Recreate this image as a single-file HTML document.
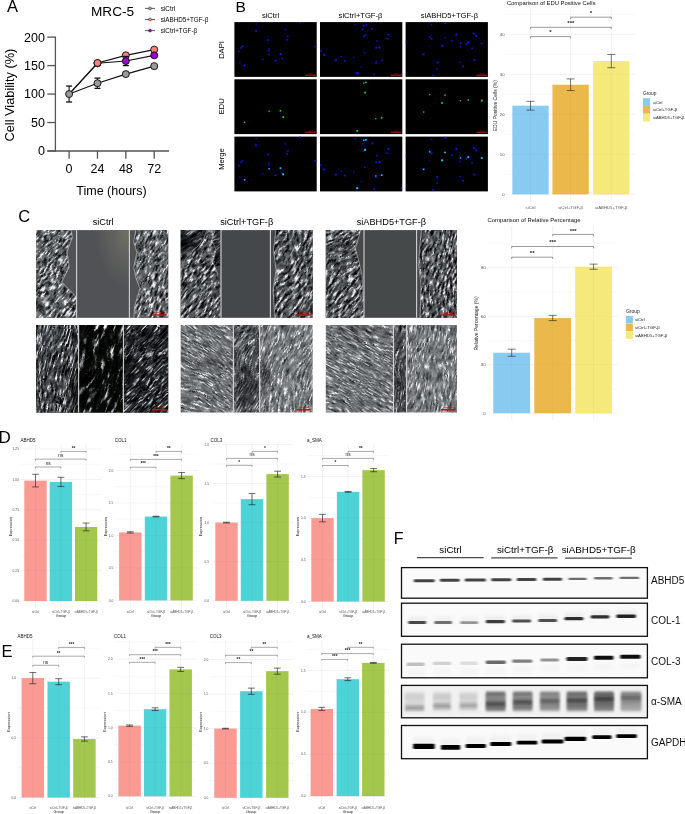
<!DOCTYPE html>
<html><head><meta charset="utf-8"><style>
html,body{margin:0;padding:0;background:#fff;}
body{width:685px;height:814px;overflow:hidden;}
svg{display:block;font-family:'Liberation Sans', Arial, sans-serif;}
</style></head><body>
<svg width="685" height="814" viewBox="0 0 685 814">
<defs>
<filter id="dotblur" x="-5%" y="-5%" width="110%" height="110%"><feGaussianBlur stdDeviation="0.3"/></filter>
<clipPath id="clipB00"><rect x="234.4" y="22.1" width="82.3" height="54.8"/></clipPath>
<clipPath id="clipB01"><rect x="234.4" y="79.3" width="82.3" height="54.8"/></clipPath>
<clipPath id="clipB02"><rect x="234.4" y="136.6" width="82.3" height="54.8"/></clipPath>
<clipPath id="clipB10"><rect x="320" y="22.1" width="82.3" height="54.8"/></clipPath>
<clipPath id="clipB11"><rect x="320" y="79.3" width="82.3" height="54.8"/></clipPath>
<clipPath id="clipB12"><rect x="320" y="136.6" width="82.3" height="54.8"/></clipPath>
<clipPath id="clipB20"><rect x="405.6" y="22.1" width="82.3" height="54.8"/></clipPath>
<clipPath id="clipB21"><rect x="405.6" y="79.3" width="82.3" height="54.8"/></clipPath>
<clipPath id="clipB22"><rect x="405.6" y="136.6" width="82.3" height="54.8"/></clipPath>
<clipPath id="cimg0"><rect x="36.2" y="230.1" width="132" height="87.7"/></clipPath>
<clipPath id="cimg1"><rect x="180.7" y="230.1" width="132" height="87.7"/></clipPath>
<clipPath id="cimg2"><rect x="325.8" y="230.1" width="131.1" height="87.7"/></clipPath>
<clipPath id="cimg3"><rect x="36.2" y="325.1" width="132" height="87.5"/></clipPath>
<clipPath id="cimg4"><rect x="180.7" y="325.1" width="132" height="87.5"/></clipPath>
<clipPath id="cimg5"><rect x="325.8" y="325.1" width="131.1" height="87.5"/></clipPath>
<filter id="tx1" x="0" y="0" width="1" height="1" color-interpolation-filters="sRGB"><feTurbulence type="fractalNoise" baseFrequency="0.13 0.5" numOctaves="4" seed="3" result="n"/><feTurbulence type="fractalNoise" baseFrequency="0.018" numOctaves="2" seed="53" result="w"/><feDisplacementMap in="n" in2="w" scale="22" xChannelSelector="R" yChannelSelector="G" result="d"/><feColorMatrix in="d" type="matrix" values="1 0 0 0 0 1 0 0 0 0 1 0 0 0 0 0 0 0 0 1"/><feComponentTransfer result="t"><feFuncR type="table" tableValues="0.000 0.000 0.000 0.000 0.000 0.005 0.080 0.155 0.230 0.305 0.380 0.455 0.561 0.745 0.947 1.000 1.000 1.000 1.000 1.000 1.000"/><feFuncG type="table" tableValues="0.000 0.000 0.000 0.000 0.000 0.017 0.092 0.167 0.242 0.317 0.392 0.467 0.573 0.757 0.959 1.000 1.000 1.000 1.000 1.000 1.000"/><feFuncB type="table" tableValues="0.000 0.000 0.000 0.000 0.000 0.027 0.102 0.177 0.252 0.327 0.402 0.477 0.585 0.774 0.982 1.000 1.000 1.000 1.000 1.000 1.000"/></feComponentTransfer><feTurbulence type="fractalNoise" baseFrequency="0.55" numOctaves="1" seed="93" result="sp"/><feColorMatrix in="sp" type="matrix" values="0 0 0 0 0.85 0 0 0 0 0.87 0 0 0 0 0.92 7 0 0 0 -4.76" result="spk"/><feComposite in="spk" in2="t" operator="over" result="c"/><feGaussianBlur in="c" stdDeviation="0.4"/></filter>
<filter id="tx2" x="0" y="0" width="1" height="1" color-interpolation-filters="sRGB"><feTurbulence type="fractalNoise" baseFrequency="0.13 0.5" numOctaves="4" seed="7" result="n"/><feTurbulence type="fractalNoise" baseFrequency="0.018" numOctaves="2" seed="57" result="w"/><feDisplacementMap in="n" in2="w" scale="22" xChannelSelector="R" yChannelSelector="G" result="d"/><feColorMatrix in="d" type="matrix" values="1 0 0 0 0 1 0 0 0 0 1 0 0 0 0 0 0 0 0 1"/><feComponentTransfer result="t"><feFuncR type="table" tableValues="0.000 0.000 0.000 0.000 0.000 0.000 0.020 0.095 0.170 0.245 0.320 0.395 0.501 0.685 0.887 1.000 1.000 1.000 1.000 1.000 1.000"/><feFuncG type="table" tableValues="0.000 0.000 0.000 0.000 0.000 0.000 0.032 0.107 0.182 0.257 0.332 0.407 0.513 0.697 0.899 1.000 1.000 1.000 1.000 1.000 1.000"/><feFuncB type="table" tableValues="0.000 0.000 0.000 0.000 0.000 0.000 0.042 0.117 0.192 0.267 0.342 0.417 0.525 0.714 0.922 1.000 1.000 1.000 1.000 1.000 1.000"/></feComponentTransfer><feTurbulence type="fractalNoise" baseFrequency="0.55" numOctaves="1" seed="97" result="sp"/><feColorMatrix in="sp" type="matrix" values="0 0 0 0 0.85 0 0 0 0 0.87 0 0 0 0 0.92 7 0 0 0 -4.76" result="spk"/><feComposite in="spk" in2="t" operator="over" result="c"/><feGaussianBlur in="c" stdDeviation="0.4"/></filter>
<filter id="tx3" x="0" y="0" width="1" height="1" color-interpolation-filters="sRGB"><feTurbulence type="fractalNoise" baseFrequency="0.09 0.7" numOctaves="4" seed="11" result="n"/><feTurbulence type="fractalNoise" baseFrequency="0.018" numOctaves="2" seed="61" result="w"/><feDisplacementMap in="n" in2="w" scale="22" xChannelSelector="R" yChannelSelector="G" result="d"/><feColorMatrix in="d" type="matrix" values="1 0 0 0 0 1 0 0 0 0 1 0 0 0 0 0 0 0 0 1"/><feComponentTransfer result="t"><feFuncR type="table" tableValues="0.000 0.000 0.000 0.000 0.000 0.000 0.000 0.030 0.100 0.170 0.240 0.310 0.413 0.598 0.803 1.000 1.000 1.000 1.000 1.000 1.000"/><feFuncG type="table" tableValues="0.000 0.000 0.000 0.000 0.000 0.000 0.000 0.042 0.112 0.182 0.252 0.322 0.425 0.610 0.815 1.000 1.000 1.000 1.000 1.000 1.000"/><feFuncB type="table" tableValues="0.000 0.000 0.000 0.000 0.000 0.000 0.000 0.052 0.122 0.192 0.262 0.332 0.437 0.627 0.839 1.000 1.000 1.000 1.000 1.000 1.000"/></feComponentTransfer><feTurbulence type="fractalNoise" baseFrequency="0.55" numOctaves="1" seed="101" result="sp"/><feColorMatrix in="sp" type="matrix" values="0 0 0 0 0.85 0 0 0 0 0.87 0 0 0 0 0.92 7 0 0 0 -4.76" result="spk"/><feComposite in="spk" in2="t" operator="over" result="c"/><feGaussianBlur in="c" stdDeviation="0.4"/></filter>
<filter id="tx4" x="0" y="0" width="1" height="1" color-interpolation-filters="sRGB"><feTurbulence type="fractalNoise" baseFrequency="0.1 0.75" numOctaves="4" seed="5" result="n"/><feTurbulence type="fractalNoise" baseFrequency="0.016" numOctaves="2" seed="55" result="w"/><feDisplacementMap in="n" in2="w" scale="26" xChannelSelector="R" yChannelSelector="G" result="d"/><feColorMatrix in="d" type="matrix" values="1 0 0 0 0 1 0 0 0 0 1 0 0 0 0 0 0 0 0 1"/><feComponentTransfer result="t"><feFuncR type="table" tableValues="0.000 0.013 0.060 0.108 0.155 0.203 0.250 0.297 0.345 0.393 0.440 0.488 0.553 0.665 0.787 0.916 1.000 1.000 1.000 1.000 1.000"/><feFuncG type="table" tableValues="0.000 0.025 0.072 0.120 0.167 0.215 0.262 0.309 0.357 0.405 0.452 0.500 0.565 0.677 0.799 0.928 1.000 1.000 1.000 1.000 1.000"/><feFuncB type="table" tableValues="0.000 0.035 0.082 0.130 0.177 0.225 0.272 0.320 0.367 0.415 0.462 0.510 0.576 0.691 0.817 0.950 1.000 1.000 1.000 1.000 1.000"/></feComponentTransfer><feTurbulence type="fractalNoise" baseFrequency="0.55" numOctaves="1" seed="95" result="sp"/><feColorMatrix in="sp" type="matrix" values="0 0 0 0 0.85 0 0 0 0 0.87 0 0 0 0 0.92 7 0 0 0 -4.76" result="spk"/><feComposite in="spk" in2="t" operator="over" result="c"/><feGaussianBlur in="c" stdDeviation="0.4"/></filter>
<filter id="tx5" x="0" y="0" width="1" height="1" color-interpolation-filters="sRGB"><feTurbulence type="fractalNoise" baseFrequency="0.1 0.75" numOctaves="4" seed="23" result="n"/><feTurbulence type="fractalNoise" baseFrequency="0.016" numOctaves="2" seed="73" result="w"/><feDisplacementMap in="n" in2="w" scale="26" xChannelSelector="R" yChannelSelector="G" result="d"/><feColorMatrix in="d" type="matrix" values="1 0 0 0 0 1 0 0 0 0 1 0 0 0 0 0 0 0 0 1"/><feComponentTransfer result="t"><feFuncR type="table" tableValues="0.000 0.042 0.090 0.138 0.185 0.232 0.280 0.327 0.375 0.422 0.470 0.518 0.583 0.695 0.817 0.946 1.000 1.000 1.000 1.000 1.000"/><feFuncG type="table" tableValues="0.007 0.054 0.102 0.150 0.197 0.244 0.292 0.339 0.387 0.434 0.482 0.530 0.595 0.707 0.829 0.958 1.000 1.000 1.000 1.000 1.000"/><feFuncB type="table" tableValues="0.017 0.065 0.112 0.160 0.207 0.255 0.302 0.349 0.397 0.445 0.492 0.540 0.606 0.721 0.847 0.980 1.000 1.000 1.000 1.000 1.000"/></feComponentTransfer><feTurbulence type="fractalNoise" baseFrequency="0.55" numOctaves="1" seed="113" result="sp"/><feColorMatrix in="sp" type="matrix" values="0 0 0 0 0.85 0 0 0 0 0.87 0 0 0 0 0.92 7 0 0 0 -4.76" result="spk"/><feComposite in="spk" in2="t" operator="over" result="c"/><feGaussianBlur in="c" stdDeviation="0.4"/></filter>
<filter id="txd" x="0" y="0" width="1" height="1" color-interpolation-filters="sRGB"><feTurbulence type="fractalNoise" baseFrequency="0.06 0.35" numOctaves="4" seed="13" result="n"/><feTurbulence type="fractalNoise" baseFrequency="0.02" numOctaves="2" seed="63" result="w"/><feDisplacementMap in="n" in2="w" scale="18" xChannelSelector="R" yChannelSelector="G" result="d"/><feColorMatrix in="d" type="matrix" values="1 0 0 0 0 1 0 0 0 0 1 0 0 0 0 0 0 0 0 1"/><feComponentTransfer result="t"><feFuncR type="table" tableValues="0.000 0.000 0.000 0.000 0.000 0.000 0.000 0.000 0.000 0.015 0.030 0.045 0.060 0.254 0.500 0.772 1.000 1.000 1.000 1.000 1.000"/><feFuncG type="table" tableValues="0.000 0.000 0.000 0.000 0.000 0.000 0.000 0.000 0.010 0.025 0.040 0.055 0.070 0.264 0.510 0.782 1.000 1.000 1.000 1.000 1.000"/><feFuncB type="table" tableValues="0.000 0.000 0.000 0.000 0.000 0.000 0.000 0.000 0.000 0.015 0.030 0.045 0.060 0.262 0.521 0.806 1.000 1.000 1.000 1.000 1.000"/></feComponentTransfer><feTurbulence type="fractalNoise" baseFrequency="0.55" numOctaves="1" seed="103" result="sp"/><feColorMatrix in="sp" type="matrix" values="0 0 0 0 0.85 0 0 0 0 0.87 0 0 0 0 0.92 3.5 0 0 0 -2.38" result="spk"/><feComposite in="spk" in2="t" operator="over" result="c"/><feGaussianBlur in="c" stdDeviation="0.4"/></filter>
<filter id="txm" x="0" y="0" width="1" height="1" color-interpolation-filters="sRGB"><feTurbulence type="fractalNoise" baseFrequency="0.09 0.7" numOctaves="4" seed="17" result="n"/><feTurbulence type="fractalNoise" baseFrequency="0.018" numOctaves="2" seed="67" result="w"/><feDisplacementMap in="n" in2="w" scale="22" xChannelSelector="R" yChannelSelector="G" result="d"/><feColorMatrix in="d" type="matrix" values="1 0 0 0 0 1 0 0 0 0 1 0 0 0 0 0 0 0 0 1"/><feComponentTransfer result="t"><feFuncR type="table" tableValues="0.000 0.000 0.000 0.000 0.000 0.000 0.000 0.000 0.040 0.090 0.140 0.190 0.273 0.438 0.623 0.819 1.000 1.000 1.000 1.000 1.000"/><feFuncG type="table" tableValues="0.000 0.000 0.000 0.000 0.000 0.000 0.000 0.002 0.052 0.102 0.152 0.202 0.285 0.450 0.635 0.831 1.000 1.000 1.000 1.000 1.000"/><feFuncB type="table" tableValues="0.000 0.000 0.000 0.000 0.000 0.000 0.000 0.012 0.062 0.112 0.162 0.212 0.297 0.467 0.659 0.863 1.000 1.000 1.000 1.000 1.000"/></feComponentTransfer><feTurbulence type="fractalNoise" baseFrequency="0.55" numOctaves="1" seed="107" result="sp"/><feColorMatrix in="sp" type="matrix" values="0 0 0 0 0.85 0 0 0 0 0.87 0 0 0 0 0.92 7 0 0 0 -4.76" result="spk"/><feComposite in="spk" in2="t" operator="over" result="c"/><feGaussianBlur in="c" stdDeviation="0.4"/></filter>
<filter id="txg" x="0" y="0" width="1" height="1" color-interpolation-filters="sRGB"><feTurbulence type="fractalNoise" baseFrequency="0.1 0.75" numOctaves="4" seed="19" result="n"/><feTurbulence type="fractalNoise" baseFrequency="0.016" numOctaves="2" seed="69" result="w"/><feDisplacementMap in="n" in2="w" scale="26" xChannelSelector="R" yChannelSelector="G" result="d"/><feColorMatrix in="d" type="matrix" values="1 0 0 0 0 1 0 0 0 0 1 0 0 0 0 0 0 0 0 1"/><feComponentTransfer result="t"><feFuncR type="table" tableValues="0.000 0.000 0.000 0.000 0.020 0.070 0.120 0.170 0.220 0.270 0.320 0.370 0.440 0.560 0.693 0.832 0.978 1.000 1.000 1.000 1.000"/><feFuncG type="table" tableValues="0.000 0.000 0.000 0.000 0.032 0.082 0.132 0.182 0.232 0.282 0.332 0.382 0.452 0.572 0.705 0.844 0.990 1.000 1.000 1.000 1.000"/><feFuncB type="table" tableValues="0.000 0.000 0.000 0.000 0.042 0.092 0.142 0.192 0.242 0.292 0.342 0.392 0.463 0.587 0.723 0.868 1.000 1.000 1.000 1.000 1.000"/></feComponentTransfer><feTurbulence type="fractalNoise" baseFrequency="0.55" numOctaves="1" seed="109" result="sp"/><feColorMatrix in="sp" type="matrix" values="0 0 0 0 0.85 0 0 0 0 0.87 0 0 0 0 0.92 7 0 0 0 -4.76" result="spk"/><feComposite in="spk" in2="t" operator="over" result="c"/><feGaussianBlur in="c" stdDeviation="0.4"/></filter>
<filter id="txs" x="0" y="0" width="1" height="1" color-interpolation-filters="sRGB"><feTurbulence type="fractalNoise" baseFrequency="0.08 0.6" numOctaves="4" seed="29" result="n"/><feTurbulence type="fractalNoise" baseFrequency="0.018" numOctaves="2" seed="79" result="w"/><feDisplacementMap in="n" in2="w" scale="22" xChannelSelector="R" yChannelSelector="G" result="d"/><feColorMatrix in="d" type="matrix" values="1 0 0 0 0 1 0 0 0 0 1 0 0 0 0 0 0 0 0 1"/><feComponentTransfer result="t"><feFuncR type="table" tableValues="0.000 0.000 0.000 0.000 0.000 0.000 0.000 0.015 0.060 0.105 0.150 0.195 0.269 0.417 0.581 0.757 0.940 1.000 1.000 1.000 1.000"/><feFuncG type="table" tableValues="0.000 0.000 0.000 0.000 0.000 0.000 0.000 0.027 0.072 0.117 0.162 0.207 0.281 0.429 0.593 0.769 0.952 1.000 1.000 1.000 1.000"/><feFuncB type="table" tableValues="0.000 0.000 0.000 0.000 0.000 0.000 0.000 0.037 0.082 0.127 0.172 0.217 0.293 0.445 0.616 0.798 0.988 1.000 1.000 1.000 1.000"/></feComponentTransfer><feTurbulence type="fractalNoise" baseFrequency="0.55" numOctaves="1" seed="119" result="sp"/><feColorMatrix in="sp" type="matrix" values="0 0 0 0 0.85 0 0 0 0 0.87 0 0 0 0 0.92 7 0 0 0 -4.76" result="spk"/><feComposite in="spk" in2="t" operator="over" result="c"/><feGaussianBlur in="c" stdDeviation="0.4"/></filter>
<radialGradient id="glow1" cx="0.95" cy="0.05" r="0.6"><stop offset="0" stop-color="#6e6e66" stop-opacity="1"/><stop offset="1" stop-color="#6e6e66" stop-opacity="0"/></radialGradient>
<clipPath id="cc1"><polygon points="36.2,230.1 71.3,230.1 72.3,237.7 69.2,246 67,252.5 68.1,258.9 69.2,267.3 64.9,275.8 61.8,282 66,286.4 70.2,290.6 74.4,294.9 76.6,298 76.6,317.8 36.2,317.8"/></clipPath>
<clipPath id="cc2"><polygon points="168.2,230.1 135.8,230.1 133.7,242 136.9,252.5 133.7,267.3 135.8,277.9 140,288.5 138,294.9 134.8,305.4 133.7,317.8 168.2,317.8"/></clipPath>
<clipPath id="cc3"><rect x="180.7" y="230.1" width="40" height="35.9"/></clipPath>
<clipPath id="cc4"><polygon points="180.7,266 186,258 192,252 198,246 204,238 207,230.1 215,230.1 212,240 216,250 213,262 218,275 220.7,285 220.7,317.8 180.7,317.8"/></clipPath>
<clipPath id="cc5"><polygon points="312.7,230.1 276,230.1 273.5,250 276,270 273,290 275,317.8 312.7,317.8"/></clipPath>
<clipPath id="cc6"><polygon points="325.8,230.1 360.6,230.1 358,240 355.5,248.7 359,262 361.9,274.5 363.2,295 364,300 364,317.8 325.8,317.8"/></clipPath>
<clipPath id="cc7"><polygon points="456.9,230.1 421.3,230.1 419.5,250 418.7,265 421,285 420,317.8 456.9,317.8"/></clipPath>
<clipPath id="cc8"><rect x="36.2" y="325.1" width="42.4" height="87.5"/></clipPath>
<clipPath id="cc9"><rect x="78.6" y="325.1" width="44.8" height="87.5"/></clipPath>
<clipPath id="cc10"><rect x="123.4" y="325.1" width="44.8" height="87.5"/></clipPath>
<clipPath id="cc11"><rect x="180.7" y="325.1" width="52.7" height="87.5"/></clipPath>
<clipPath id="cc12"><rect x="233.4" y="325.1" width="26.2" height="87.5"/></clipPath>
<clipPath id="cc13"><rect x="259.6" y="325.1" width="53.1" height="87.5"/></clipPath>
<clipPath id="cc14"><rect x="325.8" y="325.1" width="67.7" height="87.5"/></clipPath>
<clipPath id="cc15"><rect x="393.5" y="325.1" width="13.1" height="87.5"/></clipPath>
<clipPath id="cc16"><rect x="406.6" y="325.1" width="50.3" height="87.5"/></clipPath>
<radialGradient id="pg000"><stop offset="0" stop-color="#000" stop-opacity="1"/><stop offset="0.6" stop-color="#000" stop-opacity="0.6"/><stop offset="1" stop-color="#000" stop-opacity="0"/></radialGradient>
<radialGradient id="pg9aa0b0"><stop offset="0" stop-color="#9aa0b0" stop-opacity="1"/><stop offset="0.6" stop-color="#9aa0b0" stop-opacity="0.6"/><stop offset="1" stop-color="#9aa0b0" stop-opacity="0"/></radialGradient>
<filter id="bl1" x="-30%" y="-200%" width="160%" height="500%"><feGaussianBlur stdDeviation="0.9 0.6"/></filter>
<filter id="bl2" x="-30%" y="-200%" width="160%" height="500%"><feGaussianBlur stdDeviation="1.2 1.4"/></filter>
<filter id="bl3" x="-30%" y="-100%" width="160%" height="300%"><feGaussianBlur stdDeviation="1.5 2.5"/></filter>
</defs>
<text x="7" y="12" font-size="16.5" text-anchor="start" fill="#000" >A</text>
<text x="91" y="16.2" font-size="13.6" text-anchor="start" fill="#000" >MRC-5</text>
<line x1="145" y1="8.4" x2="155" y2="8.4" stroke="#333" stroke-width="0.8" />
<circle cx="150" cy="8.4" r="1.5" fill="#999999" stroke="#333" stroke-width="0.5"/>
<text x="160.8" y="10.7" font-size="6.3" text-anchor="start" fill="#000" >siCtrl</text>
<line x1="145" y1="19.5" x2="155" y2="19.5" stroke="#333" stroke-width="0.8" />
<circle cx="150" cy="19.5" r="1.5" fill="#f08080" stroke="#333" stroke-width="0.5"/>
<text x="160.8" y="21.8" font-size="6.3" text-anchor="start" fill="#000" >siABHD5+TGF-β</text>
<line x1="145" y1="30.6" x2="155" y2="30.6" stroke="#333" stroke-width="0.8" />
<circle cx="150" cy="30.6" r="1.5" fill="#9b00d3" stroke="#333" stroke-width="0.5"/>
<text x="160.8" y="32.9" font-size="6.3" text-anchor="start" fill="#000" >siCtrl+TGF-β</text>
<line x1="55.4" y1="36.6" x2="55.4" y2="151.6" stroke="#555" stroke-width="1.3" />
<line x1="47.3" y1="151" x2="169" y2="151" stroke="#555" stroke-width="1.3" />
<line x1="47.3" y1="37.1" x2="55.4" y2="37.1" stroke="#555" stroke-width="1.3" />
<text x="44.9" y="41.5" font-size="12.5" text-anchor="end" fill="#000" >200</text>
<line x1="47.3" y1="65.58" x2="55.4" y2="65.58" stroke="#555" stroke-width="1.3" />
<text x="44.9" y="69.98" font-size="12.5" text-anchor="end" fill="#000" >150</text>
<line x1="47.3" y1="94.05" x2="55.4" y2="94.05" stroke="#555" stroke-width="1.3" />
<text x="44.9" y="98.45" font-size="12.5" text-anchor="end" fill="#000" >100</text>
<line x1="47.3" y1="122.53" x2="55.4" y2="122.53" stroke="#555" stroke-width="1.3" />
<text x="44.9" y="126.93" font-size="12.5" text-anchor="end" fill="#000" >50</text>
<line x1="47.3" y1="151" x2="55.4" y2="151" stroke="#555" stroke-width="1.3" />
<text x="44.9" y="155.4" font-size="12.5" text-anchor="end" fill="#000" >0</text>
<line x1="69.1" y1="151" x2="69.1" y2="158.7" stroke="#555" stroke-width="1.3" />
<text x="69.1" y="172.6" font-size="12.5" text-anchor="middle" fill="#000" >0</text>
<line x1="97.47" y1="151" x2="97.47" y2="158.7" stroke="#555" stroke-width="1.3" />
<text x="97.47" y="172.6" font-size="12.5" text-anchor="middle" fill="#000" >24</text>
<line x1="125.84" y1="151" x2="125.84" y2="158.7" stroke="#555" stroke-width="1.3" />
<text x="125.84" y="172.6" font-size="12.5" text-anchor="middle" fill="#000" >48</text>
<line x1="154.2" y1="151" x2="154.2" y2="158.7" stroke="#555" stroke-width="1.3" />
<text x="154.2" y="172.6" font-size="12.5" text-anchor="middle" fill="#000" >72</text>
<text x="111.5" y="194.6" font-size="12.5" text-anchor="middle" fill="#000" >Time (hours)</text>
<text transform="translate(13.6,95.1) rotate(-90)" font-size="12.8" text-anchor="middle">Cell Viability (%)</text>
<polyline points="69.1,94.05 97.47,83.23 125.84,74.12 154.2,66.14" fill="none" stroke="#111" stroke-width="1.15"/>
<polyline points="69.1,94.05 97.47,63.3 125.84,61.02 154.2,55.32" fill="none" stroke="#111" stroke-width="1.15"/>
<polyline points="69.1,94.05 97.47,62.96 125.84,55.32 154.2,49.63" fill="none" stroke="#111" stroke-width="1.15"/>
<line x1="69.1" y1="86.08" x2="69.1" y2="102.02" stroke="#111" stroke-width="1.1" />
<line x1="66.1" y1="86.08" x2="72.1" y2="86.08" stroke="#111" stroke-width="1.3" />
<line x1="66.1" y1="102.02" x2="72.1" y2="102.02" stroke="#111" stroke-width="1.3" />
<line x1="97.47" y1="78.1" x2="97.47" y2="88.35" stroke="#111" stroke-width="1.1" />
<line x1="94.47" y1="78.1" x2="100.47" y2="78.1" stroke="#111" stroke-width="1.3" />
<line x1="94.47" y1="88.35" x2="100.47" y2="88.35" stroke="#111" stroke-width="1.3" />
<line x1="125.84" y1="72.41" x2="125.84" y2="75.83" stroke="#111" stroke-width="1.1" />
<line x1="122.84" y1="72.41" x2="128.84" y2="72.41" stroke="#111" stroke-width="1.3" />
<line x1="122.84" y1="75.83" x2="128.84" y2="75.83" stroke="#111" stroke-width="1.3" />
<circle cx="69.1" cy="94.05" r="3.5" fill="#9a9a9a" stroke="#111" stroke-width="0.95"/>
<circle cx="97.47" cy="83.23" r="3.5" fill="#9a9a9a" stroke="#111" stroke-width="0.95"/>
<circle cx="125.84" cy="74.12" r="3.5" fill="#9a9a9a" stroke="#111" stroke-width="0.95"/>
<circle cx="154.2" cy="66.14" r="3.5" fill="#9a9a9a" stroke="#111" stroke-width="0.95"/>
<circle cx="97.47" cy="63.3" r="3.5" fill="#9b00d3" stroke="#111" stroke-width="0.95"/>
<circle cx="97.47" cy="62.96" r="3.5" fill="#f4827c" stroke="#111" stroke-width="0.95"/>
<circle cx="125.84" cy="55.32" r="3.5" fill="#f4827c" stroke="#111" stroke-width="0.95"/>
<circle cx="154.2" cy="49.63" r="3.5" fill="#f4827c" stroke="#111" stroke-width="0.95"/>
<line x1="125.84" y1="56.46" x2="125.84" y2="65.58" stroke="#111" stroke-width="1.1" />
<line x1="122.84" y1="56.46" x2="128.84" y2="56.46" stroke="#111" stroke-width="1.3" />
<line x1="122.84" y1="65.58" x2="128.84" y2="65.58" stroke="#111" stroke-width="1.3" />
<circle cx="125.84" cy="61.02" r="3.5" fill="#9b00d3" stroke="#111" stroke-width="0.95"/>
<line x1="154.2" y1="53.62" x2="154.2" y2="57.03" stroke="#111" stroke-width="1.1" />
<line x1="151.2" y1="53.62" x2="157.2" y2="53.62" stroke="#111" stroke-width="1.3" />
<line x1="151.2" y1="57.03" x2="157.2" y2="57.03" stroke="#111" stroke-width="1.3" />
<circle cx="154.2" cy="55.32" r="3.5" fill="#9b00d3" stroke="#111" stroke-width="0.95"/>
<text x="235.6" y="11.7" font-size="15.5" text-anchor="start" fill="#000" >B</text>
<text x="261.9" y="18.4" font-size="7.6" text-anchor="start" fill="#000" >siCtrl</text>
<text x="338.6" y="18.4" font-size="7.6" text-anchor="start" fill="#000" >siCtrl+TGF-β</text>
<text x="420.7" y="18.4" font-size="7.6" text-anchor="start" fill="#000" >siABHD5+TGF-β</text>
<text transform="translate(224.2,50) rotate(-90)" font-size="7.6" text-anchor="middle">DAPI</text>
<text transform="translate(224.2,106.2) rotate(-90)" font-size="7.6" text-anchor="middle">EDU</text>
<text transform="translate(224.2,159) rotate(-90)" font-size="7.6" text-anchor="middle">Merge</text>
<rect x="234.4" y="22.1" width="82.3" height="54.8" fill="#000"/>
<g clip-path="url(#clipB00)">
<g filter="url(#dotblur)">
<ellipse cx="256.2" cy="24.1" rx="1" ry="0.8" fill="#1616ee" fill-opacity="0.60"/>
<ellipse cx="256" cy="30.7" rx="1.11" ry="1.11" fill="#1616ee" fill-opacity="0.83"/>
<ellipse cx="285.5" cy="29.4" rx="0.98" ry="0.98" fill="#1616ee" fill-opacity="0.66"/>
<ellipse cx="287.7" cy="36.3" rx="1.06" ry="0.85" fill="#1616ee" fill-opacity="0.89"/>
<ellipse cx="287.3" cy="39.7" rx="1.16" ry="1.16" fill="#1616ee" fill-opacity="0.71"/>
<ellipse cx="268.2" cy="40.1" rx="1.03" ry="1.03" fill="#1616ee" fill-opacity="0.94"/>
<ellipse cx="242.7" cy="46.2" rx="1.11" ry="0.89" fill="#1616ee" fill-opacity="0.77"/>
<ellipse cx="241" cy="47.8" rx="1.21" ry="1.21" fill="#1616ee" fill-opacity="0.60"/>
<ellipse cx="238.9" cy="51.3" rx="1.07" ry="1.07" fill="#1616ee" fill-opacity="0.83"/>
<ellipse cx="269.1" cy="48.7" rx="1.17" ry="0.94" fill="#1616ee" fill-opacity="0.66"/>
<ellipse cx="268.7" cy="50.8" rx="0.8" ry="0.8" fill="#1616ee" fill-opacity="0.89"/>
<ellipse cx="269.1" cy="54.6" rx="1.11" ry="1.11" fill="#1616ee" fill-opacity="0.71"/>
<ellipse cx="280.6" cy="53.9" rx="1.23" ry="0.98" fill="#1616ee" fill-opacity="0.94"/>
<ellipse cx="262.6" cy="59.4" rx="0.85" ry="0.85" fill="#1616ee" fill-opacity="0.77"/>
<ellipse cx="282.3" cy="58.7" rx="1.16" ry="1.16" fill="#1616ee" fill-opacity="0.60"/>
<ellipse cx="275.5" cy="60.7" rx="1.28" ry="1.03" fill="#1616ee" fill-opacity="0.83"/>
<ellipse cx="239.8" cy="62.6" rx="0.89" ry="0.89" fill="#1616ee" fill-opacity="0.66"/>
<ellipse cx="244.6" cy="65.4" rx="1.21" ry="1.21" fill="#1616ee" fill-opacity="0.89"/>
<ellipse cx="315.3" cy="46.5" rx="1.34" ry="1.07" fill="#1616ee" fill-opacity="0.71"/>
<ellipse cx="300.3" cy="22.5" rx="0.94" ry="0.94" fill="#1616ee" fill-opacity="0.94"/>
</g>
<rect x="305.2" y="74.5" width="11" height="1.4" fill="#8c1212"/>
<rect x="308.2" y="73.3" width="5" height="1" fill="#8c1212" fill-opacity="0.6"/>
</g>
<rect x="234.4" y="79.3" width="82.3" height="54.8" fill="#000"/>
<g clip-path="url(#clipB01)">
<g filter="url(#dotblur)">
<circle cx="269.1" cy="111.4" r="0.8" fill="#22c422"/>
<circle cx="280.4" cy="110.8" r="0.95" fill="#22c422"/>
<circle cx="283.2" cy="117.1" r="1.1" fill="#22c422"/>
<circle cx="244.6" cy="122.4" r="0.8" fill="#22c422"/>
</g>
<rect x="305.2" y="131.7" width="11" height="1.4" fill="#8c1212"/>
<rect x="308.2" y="130.5" width="5" height="1" fill="#8c1212" fill-opacity="0.6"/>
</g>
<rect x="234.4" y="136.6" width="82.3" height="54.8" fill="#000"/>
<g clip-path="url(#clipB02)">
<g filter="url(#dotblur)">
<ellipse cx="256.2" cy="138.6" rx="1" ry="0.8" fill="#1616ee" fill-opacity="0.60"/>
<ellipse cx="256" cy="145.2" rx="1.11" ry="1.11" fill="#1616ee" fill-opacity="0.83"/>
<ellipse cx="285.5" cy="143.9" rx="0.98" ry="0.98" fill="#1616ee" fill-opacity="0.66"/>
<ellipse cx="287.7" cy="150.8" rx="1.06" ry="0.85" fill="#1616ee" fill-opacity="0.89"/>
<ellipse cx="287.3" cy="154.2" rx="1.16" ry="1.16" fill="#1616ee" fill-opacity="0.71"/>
<ellipse cx="268.2" cy="154.6" rx="1.03" ry="1.03" fill="#1616ee" fill-opacity="0.94"/>
<ellipse cx="242.7" cy="160.7" rx="1.11" ry="0.89" fill="#1616ee" fill-opacity="0.77"/>
<ellipse cx="241" cy="162.3" rx="1.21" ry="1.21" fill="#1616ee" fill-opacity="0.60"/>
<ellipse cx="238.9" cy="165.8" rx="1.07" ry="1.07" fill="#1616ee" fill-opacity="0.83"/>
<ellipse cx="269.1" cy="163.2" rx="1.17" ry="0.94" fill="#1616ee" fill-opacity="0.66"/>
<ellipse cx="268.7" cy="165.3" rx="0.8" ry="0.8" fill="#1616ee" fill-opacity="0.89"/>
<ellipse cx="269.1" cy="169.1" rx="1.11" ry="1.11" fill="#1616ee" fill-opacity="0.71"/>
<ellipse cx="280.6" cy="168.4" rx="1.23" ry="0.98" fill="#1616ee" fill-opacity="0.94"/>
<ellipse cx="262.6" cy="173.9" rx="0.85" ry="0.85" fill="#1616ee" fill-opacity="0.77"/>
<ellipse cx="282.3" cy="173.2" rx="1.16" ry="1.16" fill="#1616ee" fill-opacity="0.60"/>
<ellipse cx="275.5" cy="175.2" rx="1.28" ry="1.03" fill="#1616ee" fill-opacity="0.83"/>
<ellipse cx="239.8" cy="177.1" rx="0.89" ry="0.89" fill="#1616ee" fill-opacity="0.66"/>
<ellipse cx="244.6" cy="179.9" rx="1.21" ry="1.21" fill="#1616ee" fill-opacity="0.89"/>
<ellipse cx="315.3" cy="161" rx="1.34" ry="1.07" fill="#1616ee" fill-opacity="0.71"/>
<ellipse cx="300.3" cy="137" rx="0.94" ry="0.94" fill="#1616ee" fill-opacity="0.94"/>
<circle cx="269.1" cy="168.7" r="0.8" fill="#22c8c8"/>
<circle cx="280.4" cy="168.1" r="0.95" fill="#22c8c8"/>
<circle cx="283.2" cy="174.4" r="1.1" fill="#22c8c8"/>
<circle cx="244.6" cy="179.7" r="0.8" fill="#22c8c8"/>
</g>
</g>
<rect x="320" y="22.1" width="82.3" height="54.8" fill="#000"/>
<g clip-path="url(#clipB10)">
<g filter="url(#dotblur)">
<ellipse cx="355.4" cy="24.4" rx="1.06" ry="0.85" fill="#1616ee" fill-opacity="0.60"/>
<ellipse cx="363.7" cy="25.7" rx="1.16" ry="1.16" fill="#1616ee" fill-opacity="0.83"/>
<ellipse cx="366.3" cy="25.1" rx="1.03" ry="1.03" fill="#1616ee" fill-opacity="0.66"/>
<ellipse cx="362.8" cy="29.3" rx="1.11" ry="0.89" fill="#1616ee" fill-opacity="0.89"/>
<ellipse cx="372.3" cy="28.9" rx="1.21" ry="1.21" fill="#1616ee" fill-opacity="0.71"/>
<ellipse cx="388.5" cy="34.5" rx="1.07" ry="1.07" fill="#1616ee" fill-opacity="0.94"/>
<ellipse cx="387.5" cy="38.6" rx="1.17" ry="0.94" fill="#1616ee" fill-opacity="0.77"/>
<ellipse cx="385.9" cy="38.8" rx="0.8" ry="0.8" fill="#1616ee" fill-opacity="0.60"/>
<ellipse cx="365.4" cy="35" rx="1.11" ry="1.11" fill="#1616ee" fill-opacity="0.83"/>
<ellipse cx="363.7" cy="36.6" rx="1.23" ry="0.98" fill="#1616ee" fill-opacity="0.66"/>
<ellipse cx="376.9" cy="41.1" rx="0.85" ry="0.85" fill="#1616ee" fill-opacity="0.89"/>
<ellipse cx="376.2" cy="47.8" rx="1.16" ry="1.16" fill="#1616ee" fill-opacity="0.71"/>
<ellipse cx="379.4" cy="47.6" rx="1.28" ry="1.03" fill="#1616ee" fill-opacity="0.94"/>
<ellipse cx="364.6" cy="52.7" rx="0.89" ry="0.89" fill="#1616ee" fill-opacity="0.77"/>
<ellipse cx="320.9" cy="50.8" rx="1.21" ry="1.21" fill="#1616ee" fill-opacity="0.60"/>
<ellipse cx="324.1" cy="54.9" rx="1.34" ry="1.07" fill="#1616ee" fill-opacity="0.83"/>
<ellipse cx="341.2" cy="56.8" rx="0.94" ry="0.94" fill="#1616ee" fill-opacity="0.66"/>
<ellipse cx="353.8" cy="57.5" rx="0.8" ry="0.8" fill="#1616ee" fill-opacity="0.89"/>
<ellipse cx="335.8" cy="60.2" rx="1.39" ry="1.11" fill="#1616ee" fill-opacity="0.71"/>
<ellipse cx="345.1" cy="61.1" rx="0.98" ry="0.98" fill="#1616ee" fill-opacity="0.94"/>
<ellipse cx="376.2" cy="61.1" rx="0.85" ry="0.85" fill="#1616ee" fill-opacity="0.77"/>
<ellipse cx="376.2" cy="63" rx="1.45" ry="1.16" fill="#1616ee" fill-opacity="0.60"/>
<ellipse cx="381.9" cy="60.4" rx="1.03" ry="1.03" fill="#1616ee" fill-opacity="0.83"/>
<ellipse cx="361.5" cy="66.8" rx="0.89" ry="0.89" fill="#1616ee" fill-opacity="0.66"/>
<ellipse cx="357.3" cy="73.3" rx="1.51" ry="1.21" fill="#1616ee" fill-opacity="0.89"/>
<ellipse cx="374.2" cy="74.5" rx="1.07" ry="1.07" fill="#1616ee" fill-opacity="0.71"/>
<ellipse cx="401.6" cy="73.9" rx="0.94" ry="0.94" fill="#1616ee" fill-opacity="0.94"/>
</g>
<rect x="390.8" y="74.5" width="11" height="1.4" fill="#8c1212"/>
<rect x="393.8" y="73.3" width="5" height="1" fill="#8c1212" fill-opacity="0.6"/>
</g>
<rect x="320" y="79.3" width="82.3" height="54.8" fill="#000"/>
<g clip-path="url(#clipB11)">
<g filter="url(#dotblur)">
<circle cx="363.8" cy="83.1" r="0.8" fill="#22c422"/>
<circle cx="365.9" cy="82.4" r="0.95" fill="#22c422"/>
<circle cx="365.1" cy="92.6" r="1.1" fill="#22c422"/>
<circle cx="375.8" cy="118.7" r="0.8" fill="#22c422"/>
<circle cx="381.7" cy="117.8" r="0.95" fill="#22c422"/>
<circle cx="357.2" cy="131" r="1.1" fill="#22c422"/>
</g>
<rect x="390.8" y="131.7" width="11" height="1.4" fill="#8c1212"/>
<rect x="393.8" y="130.5" width="5" height="1" fill="#8c1212" fill-opacity="0.6"/>
</g>
<rect x="320" y="136.6" width="82.3" height="54.8" fill="#000"/>
<g clip-path="url(#clipB12)">
<g filter="url(#dotblur)">
<ellipse cx="355.4" cy="138.9" rx="1.06" ry="0.85" fill="#1616ee" fill-opacity="0.60"/>
<ellipse cx="363.7" cy="140.2" rx="1.16" ry="1.16" fill="#1616ee" fill-opacity="0.83"/>
<ellipse cx="366.3" cy="139.6" rx="1.03" ry="1.03" fill="#1616ee" fill-opacity="0.66"/>
<ellipse cx="362.8" cy="143.8" rx="1.11" ry="0.89" fill="#1616ee" fill-opacity="0.89"/>
<ellipse cx="372.3" cy="143.4" rx="1.21" ry="1.21" fill="#1616ee" fill-opacity="0.71"/>
<ellipse cx="388.5" cy="149" rx="1.07" ry="1.07" fill="#1616ee" fill-opacity="0.94"/>
<ellipse cx="387.5" cy="153.1" rx="1.17" ry="0.94" fill="#1616ee" fill-opacity="0.77"/>
<ellipse cx="385.9" cy="153.3" rx="0.8" ry="0.8" fill="#1616ee" fill-opacity="0.60"/>
<ellipse cx="365.4" cy="149.5" rx="1.11" ry="1.11" fill="#1616ee" fill-opacity="0.83"/>
<ellipse cx="363.7" cy="151.1" rx="1.23" ry="0.98" fill="#1616ee" fill-opacity="0.66"/>
<ellipse cx="376.9" cy="155.6" rx="0.85" ry="0.85" fill="#1616ee" fill-opacity="0.89"/>
<ellipse cx="376.2" cy="162.3" rx="1.16" ry="1.16" fill="#1616ee" fill-opacity="0.71"/>
<ellipse cx="379.4" cy="162.1" rx="1.28" ry="1.03" fill="#1616ee" fill-opacity="0.94"/>
<ellipse cx="364.6" cy="167.2" rx="0.89" ry="0.89" fill="#1616ee" fill-opacity="0.77"/>
<ellipse cx="320.9" cy="165.3" rx="1.21" ry="1.21" fill="#1616ee" fill-opacity="0.60"/>
<ellipse cx="324.1" cy="169.4" rx="1.34" ry="1.07" fill="#1616ee" fill-opacity="0.83"/>
<ellipse cx="341.2" cy="171.3" rx="0.94" ry="0.94" fill="#1616ee" fill-opacity="0.66"/>
<ellipse cx="353.8" cy="172" rx="0.8" ry="0.8" fill="#1616ee" fill-opacity="0.89"/>
<ellipse cx="335.8" cy="174.7" rx="1.39" ry="1.11" fill="#1616ee" fill-opacity="0.71"/>
<ellipse cx="345.1" cy="175.6" rx="0.98" ry="0.98" fill="#1616ee" fill-opacity="0.94"/>
<ellipse cx="376.2" cy="175.6" rx="0.85" ry="0.85" fill="#1616ee" fill-opacity="0.77"/>
<ellipse cx="376.2" cy="177.5" rx="1.45" ry="1.16" fill="#1616ee" fill-opacity="0.60"/>
<ellipse cx="381.9" cy="174.9" rx="1.03" ry="1.03" fill="#1616ee" fill-opacity="0.83"/>
<ellipse cx="361.5" cy="181.3" rx="0.89" ry="0.89" fill="#1616ee" fill-opacity="0.66"/>
<ellipse cx="357.3" cy="187.8" rx="1.51" ry="1.21" fill="#1616ee" fill-opacity="0.89"/>
<ellipse cx="374.2" cy="189" rx="1.07" ry="1.07" fill="#1616ee" fill-opacity="0.71"/>
<ellipse cx="401.6" cy="188.4" rx="0.94" ry="0.94" fill="#1616ee" fill-opacity="0.94"/>
<circle cx="363.8" cy="140.4" r="0.8" fill="#22c8c8"/>
<circle cx="365.9" cy="139.7" r="0.95" fill="#22c8c8"/>
<circle cx="365.1" cy="149.9" r="1.1" fill="#22c8c8"/>
<circle cx="375.8" cy="176" r="0.8" fill="#22c8c8"/>
<circle cx="381.7" cy="175.1" r="0.95" fill="#22c8c8"/>
<circle cx="357.2" cy="188.3" r="1.1" fill="#22c8c8"/>
</g>
</g>
<rect x="405.6" y="22.1" width="82.3" height="54.8" fill="#000"/>
<g clip-path="url(#clipB20)">
<g filter="url(#dotblur)">
<ellipse cx="431.5" cy="25" rx="1.11" ry="0.89" fill="#1616ee" fill-opacity="0.60"/>
<ellipse cx="445.4" cy="23.1" rx="1.21" ry="1.21" fill="#1616ee" fill-opacity="0.83"/>
<ellipse cx="429.6" cy="36.9" rx="1.07" ry="1.07" fill="#1616ee" fill-opacity="0.66"/>
<ellipse cx="431.5" cy="38.8" rx="1.17" ry="0.94" fill="#1616ee" fill-opacity="0.89"/>
<ellipse cx="445" cy="37.9" rx="0.8" ry="0.8" fill="#1616ee" fill-opacity="0.71"/>
<ellipse cx="456.3" cy="34.7" rx="1.11" ry="1.11" fill="#1616ee" fill-opacity="0.94"/>
<ellipse cx="473.7" cy="33.4" rx="1.23" ry="0.98" fill="#1616ee" fill-opacity="0.77"/>
<ellipse cx="475.2" cy="34" rx="0.85" ry="0.85" fill="#1616ee" fill-opacity="0.60"/>
<ellipse cx="476.2" cy="36" rx="1.16" ry="1.16" fill="#1616ee" fill-opacity="0.83"/>
<ellipse cx="452.1" cy="40.8" rx="1.28" ry="1.03" fill="#1616ee" fill-opacity="0.66"/>
<ellipse cx="460.8" cy="43" rx="0.89" ry="0.89" fill="#1616ee" fill-opacity="0.89"/>
<ellipse cx="466.6" cy="43.9" rx="1.21" ry="1.21" fill="#1616ee" fill-opacity="0.71"/>
<ellipse cx="468.5" cy="42.4" rx="1.34" ry="1.07" fill="#1616ee" fill-opacity="0.94"/>
<ellipse cx="481.6" cy="43.3" rx="0.94" ry="0.94" fill="#1616ee" fill-opacity="0.77"/>
<ellipse cx="429.6" cy="45.8" rx="0.8" ry="0.8" fill="#1616ee" fill-opacity="0.60"/>
<ellipse cx="442.4" cy="45.8" rx="1.39" ry="1.11" fill="#1616ee" fill-opacity="0.83"/>
<ellipse cx="460.4" cy="46.9" rx="0.98" ry="0.98" fill="#1616ee" fill-opacity="0.66"/>
<ellipse cx="472.1" cy="48.4" rx="0.85" ry="0.85" fill="#1616ee" fill-opacity="0.89"/>
<ellipse cx="423.5" cy="54.3" rx="1.45" ry="1.16" fill="#1616ee" fill-opacity="0.71"/>
<ellipse cx="437.4" cy="62.6" rx="1.03" ry="1.03" fill="#1616ee" fill-opacity="0.94"/>
<ellipse cx="459.9" cy="62.1" rx="0.89" ry="0.89" fill="#1616ee" fill-opacity="0.77"/>
<ellipse cx="474.6" cy="60" rx="1.51" ry="1.21" fill="#1616ee" fill-opacity="0.60"/>
<ellipse cx="463" cy="66.2" rx="1.07" ry="1.07" fill="#1616ee" fill-opacity="0.83"/>
<ellipse cx="437" cy="68.7" rx="0.94" ry="0.94" fill="#1616ee" fill-opacity="0.66"/>
<ellipse cx="433.2" cy="75.4" rx="1" ry="0.8" fill="#1616ee" fill-opacity="0.89"/>
<ellipse cx="405.8" cy="42" rx="1.11" ry="1.11" fill="#1616ee" fill-opacity="0.71"/>
</g>
<rect x="476.4" y="74.5" width="11" height="1.4" fill="#8c1212"/>
<rect x="479.4" y="73.3" width="5" height="1" fill="#8c1212" fill-opacity="0.6"/>
</g>
<rect x="405.6" y="79.3" width="82.3" height="54.8" fill="#000"/>
<g clip-path="url(#clipB21)">
<g filter="url(#dotblur)">
<circle cx="429.8" cy="94.6" r="0.8" fill="#22c422"/>
<circle cx="445" cy="95.1" r="0.95" fill="#22c422"/>
<circle cx="442" cy="103" r="1.1" fill="#22c422"/>
<circle cx="460.4" cy="100.7" r="0.8" fill="#22c422"/>
<circle cx="468.3" cy="99.9" r="0.95" fill="#22c422"/>
<circle cx="481.8" cy="100.7" r="1.1" fill="#22c422"/>
<circle cx="423.7" cy="112.1" r="0.8" fill="#22c422"/>
</g>
<rect x="476.4" y="131.7" width="11" height="1.4" fill="#8c1212"/>
<rect x="479.4" y="130.5" width="5" height="1" fill="#8c1212" fill-opacity="0.6"/>
</g>
<rect x="405.6" y="136.6" width="82.3" height="54.8" fill="#000"/>
<g clip-path="url(#clipB22)">
<g filter="url(#dotblur)">
<ellipse cx="431.5" cy="139.5" rx="1.11" ry="0.89" fill="#1616ee" fill-opacity="0.60"/>
<ellipse cx="445.4" cy="137.6" rx="1.21" ry="1.21" fill="#1616ee" fill-opacity="0.83"/>
<ellipse cx="429.6" cy="151.4" rx="1.07" ry="1.07" fill="#1616ee" fill-opacity="0.66"/>
<ellipse cx="431.5" cy="153.3" rx="1.17" ry="0.94" fill="#1616ee" fill-opacity="0.89"/>
<ellipse cx="445" cy="152.4" rx="0.8" ry="0.8" fill="#1616ee" fill-opacity="0.71"/>
<ellipse cx="456.3" cy="149.2" rx="1.11" ry="1.11" fill="#1616ee" fill-opacity="0.94"/>
<ellipse cx="473.7" cy="147.9" rx="1.23" ry="0.98" fill="#1616ee" fill-opacity="0.77"/>
<ellipse cx="475.2" cy="148.5" rx="0.85" ry="0.85" fill="#1616ee" fill-opacity="0.60"/>
<ellipse cx="476.2" cy="150.5" rx="1.16" ry="1.16" fill="#1616ee" fill-opacity="0.83"/>
<ellipse cx="452.1" cy="155.3" rx="1.28" ry="1.03" fill="#1616ee" fill-opacity="0.66"/>
<ellipse cx="460.8" cy="157.5" rx="0.89" ry="0.89" fill="#1616ee" fill-opacity="0.89"/>
<ellipse cx="466.6" cy="158.4" rx="1.21" ry="1.21" fill="#1616ee" fill-opacity="0.71"/>
<ellipse cx="468.5" cy="156.9" rx="1.34" ry="1.07" fill="#1616ee" fill-opacity="0.94"/>
<ellipse cx="481.6" cy="157.8" rx="0.94" ry="0.94" fill="#1616ee" fill-opacity="0.77"/>
<ellipse cx="429.6" cy="160.3" rx="0.8" ry="0.8" fill="#1616ee" fill-opacity="0.60"/>
<ellipse cx="442.4" cy="160.3" rx="1.39" ry="1.11" fill="#1616ee" fill-opacity="0.83"/>
<ellipse cx="460.4" cy="161.4" rx="0.98" ry="0.98" fill="#1616ee" fill-opacity="0.66"/>
<ellipse cx="472.1" cy="162.9" rx="0.85" ry="0.85" fill="#1616ee" fill-opacity="0.89"/>
<ellipse cx="423.5" cy="168.8" rx="1.45" ry="1.16" fill="#1616ee" fill-opacity="0.71"/>
<ellipse cx="437.4" cy="177.1" rx="1.03" ry="1.03" fill="#1616ee" fill-opacity="0.94"/>
<ellipse cx="459.9" cy="176.6" rx="0.89" ry="0.89" fill="#1616ee" fill-opacity="0.77"/>
<ellipse cx="474.6" cy="174.5" rx="1.51" ry="1.21" fill="#1616ee" fill-opacity="0.60"/>
<ellipse cx="463" cy="180.7" rx="1.07" ry="1.07" fill="#1616ee" fill-opacity="0.83"/>
<ellipse cx="437" cy="183.2" rx="0.94" ry="0.94" fill="#1616ee" fill-opacity="0.66"/>
<ellipse cx="433.2" cy="189.9" rx="1" ry="0.8" fill="#1616ee" fill-opacity="0.89"/>
<ellipse cx="405.8" cy="156.5" rx="1.11" ry="1.11" fill="#1616ee" fill-opacity="0.71"/>
<circle cx="429.8" cy="151.9" r="0.8" fill="#22c8c8"/>
<circle cx="445" cy="152.4" r="0.95" fill="#22c8c8"/>
<circle cx="442" cy="160.3" r="1.1" fill="#22c8c8"/>
<circle cx="460.4" cy="158" r="0.8" fill="#22c8c8"/>
<circle cx="468.3" cy="157.2" r="0.95" fill="#22c8c8"/>
<circle cx="481.8" cy="158" r="1.1" fill="#22c8c8"/>
<circle cx="423.7" cy="169.4" r="0.8" fill="#22c8c8"/>
</g>
</g>
<line x1="506" y1="174.3" x2="635.2" y2="174.3" stroke="#f1f1f1" stroke-width="0.5" />
<line x1="506" y1="134.3" x2="635.2" y2="134.3" stroke="#f1f1f1" stroke-width="0.5" />
<line x1="506" y1="94.3" x2="635.2" y2="94.3" stroke="#f1f1f1" stroke-width="0.5" />
<line x1="506" y1="54.3" x2="635.2" y2="54.3" stroke="#f1f1f1" stroke-width="0.5" />
<line x1="506" y1="14.3" x2="635.2" y2="14.3" stroke="#f1f1f1" stroke-width="0.5" />
<line x1="506" y1="194.3" x2="635.2" y2="194.3" stroke="#e8e8e8" stroke-width="0.6" />
<line x1="506" y1="154.3" x2="635.2" y2="154.3" stroke="#e8e8e8" stroke-width="0.6" />
<line x1="506" y1="114.3" x2="635.2" y2="114.3" stroke="#e8e8e8" stroke-width="0.6" />
<line x1="506" y1="74.3" x2="635.2" y2="74.3" stroke="#e8e8e8" stroke-width="0.6" />
<line x1="506" y1="34.3" x2="635.2" y2="34.3" stroke="#e8e8e8" stroke-width="0.6" />
<line x1="530.5" y1="8.8" x2="530.5" y2="202" stroke="#e8e8e8" stroke-width="0.6" />
<line x1="570.6" y1="8.8" x2="570.6" y2="202" stroke="#e8e8e8" stroke-width="0.6" />
<line x1="611.3" y1="8.8" x2="611.3" y2="202" stroke="#e8e8e8" stroke-width="0.6" />
<rect x="512.35" y="105.7" width="36.3" height="88.6" fill="#89caf0" />
<rect x="552.45" y="84.7" width="36.3" height="109.6" fill="#ebb84b" />
<rect x="593.15" y="61.1" width="36.3" height="133.2" fill="#f4e97a" />
<line x1="512.35" y1="194.3" x2="548.65" y2="194.3" stroke="rgba(0,0,0,0.03)" stroke-width="0.7" />
<line x1="552.45" y1="194.3" x2="588.75" y2="194.3" stroke="rgba(0,0,0,0.03)" stroke-width="0.7" />
<line x1="593.15" y1="194.3" x2="629.45" y2="194.3" stroke="rgba(0,0,0,0.03)" stroke-width="0.7" />
<line x1="512.35" y1="154.3" x2="548.65" y2="154.3" stroke="rgba(0,0,0,0.03)" stroke-width="0.7" />
<line x1="552.45" y1="154.3" x2="588.75" y2="154.3" stroke="rgba(0,0,0,0.03)" stroke-width="0.7" />
<line x1="593.15" y1="154.3" x2="629.45" y2="154.3" stroke="rgba(0,0,0,0.03)" stroke-width="0.7" />
<line x1="512.35" y1="114.3" x2="548.65" y2="114.3" stroke="rgba(0,0,0,0.03)" stroke-width="0.7" />
<line x1="552.45" y1="114.3" x2="588.75" y2="114.3" stroke="rgba(0,0,0,0.03)" stroke-width="0.7" />
<line x1="593.15" y1="114.3" x2="629.45" y2="114.3" stroke="rgba(0,0,0,0.03)" stroke-width="0.7" />
<line x1="593.15" y1="74.3" x2="629.45" y2="74.3" stroke="rgba(0,0,0,0.03)" stroke-width="0.7" />
<line x1="530.5" y1="105.7" x2="530.5" y2="194.3" stroke="rgba(0,0,0,0.05)" stroke-width="0.6" />
<line x1="570.6" y1="84.7" x2="570.6" y2="194.3" stroke="rgba(0,0,0,0.05)" stroke-width="0.6" />
<line x1="611.3" y1="61.1" x2="611.3" y2="194.3" stroke="rgba(0,0,0,0.05)" stroke-width="0.6" />
<line x1="530.5" y1="101.3" x2="530.5" y2="110.1" stroke="#222" stroke-width="0.6" />
<line x1="526.5" y1="101.3" x2="534.5" y2="101.3" stroke="#222" stroke-width="0.6" />
<line x1="526.5" y1="110.1" x2="534.5" y2="110.1" stroke="#222" stroke-width="0.6" />
<line x1="570.6" y1="78.9" x2="570.6" y2="90.5" stroke="#222" stroke-width="0.6" />
<line x1="566.6" y1="78.9" x2="574.6" y2="78.9" stroke="#222" stroke-width="0.6" />
<line x1="566.6" y1="90.5" x2="574.6" y2="90.5" stroke="#222" stroke-width="0.6" />
<line x1="611.3" y1="54.5" x2="611.3" y2="67.7" stroke="#222" stroke-width="0.6" />
<line x1="607.3" y1="54.5" x2="615.3" y2="54.5" stroke="#222" stroke-width="0.6" />
<line x1="607.3" y1="67.7" x2="615.3" y2="67.7" stroke="#222" stroke-width="0.6" />
<path d="M530.5,38.4V36.6H570.6V38.4" fill="none" stroke="#555" stroke-width="0.6"/>
<text x="550.55" y="34.03" font-size="6.2" text-anchor="middle" fill="#222" font-weight="bold">*</text>
<path d="M530.5,29.1V27.3H611.3V29.1" fill="none" stroke="#555" stroke-width="0.6"/>
<text x="570.9" y="25.23" font-size="6.2" text-anchor="middle" fill="#222" font-weight="bold">***</text>
<path d="M570.6,19V17.2H611.3V19" fill="none" stroke="#555" stroke-width="0.6"/>
<text x="590.95" y="14.93" font-size="6.2" text-anchor="middle" fill="#222" font-weight="bold">*</text>
<text x="504.6" y="195.85" font-size="4.3" text-anchor="end" fill="#555" >0</text>
<text x="504.6" y="155.85" font-size="4.3" text-anchor="end" fill="#555" >10</text>
<text x="504.6" y="115.85" font-size="4.3" text-anchor="end" fill="#555" >20</text>
<text x="504.6" y="75.85" font-size="4.3" text-anchor="end" fill="#555" >30</text>
<text x="504.6" y="35.85" font-size="4.3" text-anchor="end" fill="#555" >40</text>
<text x="530.5" y="208.6" font-size="4.3" text-anchor="middle" fill="#555" >siCtrl</text>
<text x="570.6" y="208.6" font-size="4.3" text-anchor="middle" fill="#555" >siCtrl+TGF-β</text>
<text x="611.3" y="208.6" font-size="4.3" text-anchor="middle" fill="#555" >siABHD5+TGF-β</text>
<text transform="translate(497.2,105.7) rotate(-90)" font-size="5.0" text-anchor="middle" fill="#222">EDU Positive Cells (%)</text>
<text x="506.9" y="5.4" font-size="5.85" text-anchor="start" fill="#111" >Comparison of EDU Positive Cells</text>
<text x="643" y="95.2" font-size="4.8" text-anchor="start" fill="#222" >Group</text>
<rect x="643" y="98.2" width="7" height="7.7" fill="#89caf0" />
<text x="652.9" y="103.56" font-size="4.2" text-anchor="start" fill="#222" >siCtrl</text>
<rect x="643" y="106" width="7" height="7.7" fill="#ebb84b" />
<text x="652.9" y="111.36" font-size="4.2" text-anchor="start" fill="#222" >siCtrl+TGF-β</text>
<rect x="643" y="113.8" width="7" height="7.7" fill="#f4e97a" />
<text x="652.9" y="119.16" font-size="4.2" text-anchor="start" fill="#222" >siABHD5+TGF-β</text>
<text x="18.2" y="222.3" font-size="16.5" text-anchor="start" fill="#000" >C</text>
<text x="103.2" y="224.6" font-size="9.2" text-anchor="middle" fill="#000" >siCtrl</text>
<text x="246.7" y="224.6" font-size="9.2" text-anchor="middle" fill="#000" >siCtrl+TGF-β</text>
<text x="391.4" y="224.6" font-size="9.2" text-anchor="middle" fill="#000" >siABHD5+TGF-β</text>
<rect x="36.2" y="230.1" width="132" height="87.7" fill="#505255" />
<rect x="76.6" y="230.1" width="52.8" height="87.7" fill="url(#glow1)" />
<g clip-path="url(#cc1)"><g transform="rotate(-50 56.4 273.95)"><rect x="-17.76" y="199.79" width="148.32" height="148.32" filter="url(#tx1)"/></g></g>
<path d="M71.3,230.1 L72.3,237.7 L69.2,246 L67,252.5 L68.1,258.9 L69.2,267.3 L64.9,275.8 L61.8,282 L66,286.4 L70.2,290.6 L74.4,294.9 L76.6,298" fill="none" stroke="#c8ccd6" stroke-width="1.0" stroke-opacity="0.55" stroke-linejoin="round"/>
<g clip-path="url(#cc2)"><g transform="rotate(-65 148.6 273.95)"><rect x="74.44" y="199.79" width="148.32" height="148.32" filter="url(#tx1)"/></g></g>
<path d="M135.8,230.1 L133.7,242 L136.9,252.5 L133.7,267.3 L135.8,277.9 L140,288.5 L138,294.9 L134.8,305.4 L133.7,317.8" fill="none" stroke="#c8ccd6" stroke-width="1.0" stroke-opacity="0.55" stroke-linejoin="round"/>
<rect x="180.7" y="230.1" width="132" height="87.7" fill="#45484a" />
<g clip-path="url(#cc3)"><g transform="rotate(-40 200.7 248.05)"><rect x="164.7" y="212.05" width="72" height="72" filter="url(#txs)"/></g></g>
<g clip-path="url(#cc4)"><g transform="rotate(-55 200.85 273.95)"><rect x="126.69" y="199.79" width="148.32" height="148.32" filter="url(#tx2)"/></g></g>
<path d="M180.7,266 L186,258 L192,252 L198,246 L204,238 L207,230.1 L215,230.1 L212,240 L216,250 L213,262 L218,275" fill="none" stroke="#c8ccd6" stroke-width="1.0" stroke-opacity="0.45" stroke-linejoin="round"/>
<g clip-path="url(#cc5)"><g transform="rotate(-60 291.35 273.95)"><rect x="217.19" y="199.79" width="148.32" height="148.32" filter="url(#tx2)"/></g></g>
<path d="M276,230.1 L273.5,250 L276,270 L273,290 L275,317.8" fill="none" stroke="#c8ccd6" stroke-width="1.0" stroke-opacity="0.55" stroke-linejoin="round"/>
<rect x="325.8" y="230.1" width="131.1" height="87.7" fill="#45494a" />
<g clip-path="url(#cc6)"><g transform="rotate(-50 344.9 273.95)"><rect x="270.74" y="199.79" width="148.32" height="148.32" filter="url(#tx2)"/></g></g>
<path d="M360.6,230.1 L358,240 L355.5,248.7 L359,262 L361.9,274.5 L363.2,295 L364,300" fill="none" stroke="#c8ccd6" stroke-width="1.0" stroke-opacity="0.45" stroke-linejoin="round"/>
<g clip-path="url(#cc7)"><g transform="rotate(-75 436.45 273.95)"><rect x="362.29" y="199.79" width="148.32" height="148.32" filter="url(#tx2)"/></g></g>
<path d="M421.3,230.1 L419.5,250 L418.7,265 L421,285 L420,317.8" fill="none" stroke="#c8ccd6" stroke-width="1.0" stroke-opacity="0.55" stroke-linejoin="round"/>
<rect x="36.2" y="325.1" width="132" height="87.5" fill="#121412" />
<g clip-path="url(#cc8)"><g transform="rotate(-75 57.4 368.85)"><rect x="-16.6" y="294.85" width="148" height="148" filter="url(#tx3)"/></g></g>
<g clip-path="url(#cc9)"><g transform="rotate(-70 101 368.85)"><rect x="27" y="294.85" width="148" height="148" filter="url(#txd)"/></g></g>
<g clip-path="url(#cc10)"><g transform="rotate(-45 145.8 368.85)"><rect x="71.8" y="294.85" width="148" height="148" filter="url(#txm)"/></g></g>
<g clip-path="url(#cc11)"><g transform="rotate(35 207.05 368.85)"><rect x="133.05" y="294.85" width="148" height="148" filter="url(#tx4)"/></g></g>
<g clip-path="url(#cc12)"><g transform="rotate(-60 246.5 368.85)"><rect x="172.5" y="294.85" width="148" height="148" filter="url(#txg)"/></g></g>
<g clip-path="url(#cc13)"><g transform="rotate(-70 286.15 368.85)"><rect x="212.15" y="294.85" width="148" height="148" filter="url(#tx5)"/></g></g>
<g clip-path="url(#cc14)"><g transform="rotate(30 359.65 368.85)"><rect x="285.65" y="294.85" width="148" height="148" filter="url(#tx4)"/></g></g>
<g clip-path="url(#cc15)"><g transform="rotate(-80 400.05 368.85)"><rect x="326.05" y="294.85" width="148" height="148" filter="url(#txg)"/></g></g>
<g clip-path="url(#cc16)"><g transform="rotate(-80 431.75 368.85)"><rect x="357.75" y="294.85" width="148" height="148" filter="url(#tx5)"/></g></g>
<ellipse cx="76" cy="392" rx="9" ry="30" fill="url(#pg000)" fill-opacity="0.75" clip-path="url(#cimg3)"/>
<ellipse cx="48" cy="340" rx="14" ry="14" fill="url(#pg9aa0b0)" fill-opacity="0.25" clip-path="url(#cimg3)"/>
<ellipse cx="130" cy="360" rx="9" ry="30" fill="url(#pg000)" fill-opacity="0.5" clip-path="url(#cimg3)"/>
<ellipse cx="247" cy="385" rx="12" ry="24" fill="url(#pg000)" fill-opacity="0.45" clip-path="url(#cimg4)"/>
<ellipse cx="265" cy="375" rx="7" ry="20" fill="url(#pg000)" fill-opacity="0.55" clip-path="url(#cimg4)"/>
<ellipse cx="215" cy="360" rx="18" ry="10" fill="url(#pg000)" fill-opacity="0.25" clip-path="url(#cimg4)"/>
<ellipse cx="360" cy="330" rx="30" ry="12" fill="url(#pg000)" fill-opacity="0.2" clip-path="url(#cimg5)"/>
<ellipse cx="400" cy="380" rx="8" ry="30" fill="url(#pg000)" fill-opacity="0.3" clip-path="url(#cimg5)"/>
<ellipse cx="60" cy="400" rx="20" ry="14" fill="url(#pg000)" fill-opacity="0.35" clip-path="url(#cimg0)"/>
<ellipse cx="190" cy="245" rx="12" ry="16" fill="url(#pg000)" fill-opacity="0.35" clip-path="url(#cimg1)"/>
<ellipse cx="345" cy="245" rx="10" ry="10" fill="url(#pg000)" fill-opacity="0.35" clip-path="url(#cimg2)"/>
<line x1="76.6" y1="230.1" x2="76.6" y2="317.8" stroke="#d2d2d2" stroke-width="1.1" />
<line x1="129.4" y1="230.1" x2="129.4" y2="317.8" stroke="#d2d2d2" stroke-width="1.1" />
<rect x="152.2" y="314.2" width="14.5" height="1.5" fill="#b81818" />
<rect x="154.7" y="312.2" width="9.5" height="1.2" fill="#b81818" fill-opacity="0.5"/>
<line x1="221" y1="230.1" x2="221" y2="317.8" stroke="#d2d2d2" stroke-width="1.1" />
<line x1="270.4" y1="230.1" x2="270.4" y2="317.8" stroke="#d2d2d2" stroke-width="1.1" />
<rect x="296.7" y="314.2" width="14.5" height="1.5" fill="#b81818" />
<rect x="299.2" y="312.2" width="9.5" height="1.2" fill="#b81818" fill-opacity="0.5"/>
<line x1="364" y1="230.1" x2="364" y2="317.8" stroke="#d2d2d2" stroke-width="1.1" />
<line x1="416.6" y1="230.1" x2="416.6" y2="317.8" stroke="#d2d2d2" stroke-width="1.1" />
<rect x="440.9" y="314.2" width="14.5" height="1.5" fill="#b81818" />
<rect x="443.4" y="312.2" width="9.5" height="1.2" fill="#b81818" fill-opacity="0.5"/>
<line x1="78.6" y1="325.1" x2="78.6" y2="412.6" stroke="#d2d2d2" stroke-width="1.1" />
<line x1="123.4" y1="325.1" x2="123.4" y2="412.6" stroke="#d2d2d2" stroke-width="1.1" />
<rect x="152.2" y="409" width="14.5" height="1.5" fill="#b81818" />
<rect x="154.7" y="407" width="9.5" height="1.2" fill="#b81818" fill-opacity="0.5"/>
<line x1="233.4" y1="325.1" x2="233.4" y2="412.6" stroke="#d2d2d2" stroke-width="1.1" />
<line x1="259.6" y1="325.1" x2="259.6" y2="412.6" stroke="#d2d2d2" stroke-width="1.1" />
<rect x="296.7" y="409" width="14.5" height="1.5" fill="#b81818" />
<rect x="299.2" y="407" width="9.5" height="1.2" fill="#b81818" fill-opacity="0.5"/>
<line x1="393.5" y1="325.1" x2="393.5" y2="412.6" stroke="#d2d2d2" stroke-width="1.1" />
<line x1="406.6" y1="325.1" x2="406.6" y2="412.6" stroke="#d2d2d2" stroke-width="1.1" />
<rect x="440.9" y="409" width="14.5" height="1.5" fill="#b81818" />
<rect x="443.4" y="407" width="9.5" height="1.2" fill="#b81818" fill-opacity="0.5"/>
<line x1="487.5" y1="388.95" x2="617.6" y2="388.95" stroke="#f1f1f1" stroke-width="0.5" />
<line x1="487.5" y1="340.45" x2="617.6" y2="340.45" stroke="#f1f1f1" stroke-width="0.5" />
<line x1="487.5" y1="291.95" x2="617.6" y2="291.95" stroke="#f1f1f1" stroke-width="0.5" />
<line x1="487.5" y1="243.45" x2="617.6" y2="243.45" stroke="#f1f1f1" stroke-width="0.5" />
<line x1="487.5" y1="413.2" x2="617.6" y2="413.2" stroke="#e8e8e8" stroke-width="0.6" />
<line x1="487.5" y1="364.7" x2="617.6" y2="364.7" stroke="#e8e8e8" stroke-width="0.6" />
<line x1="487.5" y1="316.2" x2="617.6" y2="316.2" stroke="#e8e8e8" stroke-width="0.6" />
<line x1="487.5" y1="267.7" x2="617.6" y2="267.7" stroke="#e8e8e8" stroke-width="0.6" />
<line x1="511.7" y1="226" x2="511.7" y2="420" stroke="#e8e8e8" stroke-width="0.6" />
<line x1="552.7" y1="226" x2="552.7" y2="420" stroke="#e8e8e8" stroke-width="0.6" />
<line x1="593.6" y1="226" x2="593.6" y2="420" stroke="#e8e8e8" stroke-width="0.6" />
<rect x="493.3" y="352.74" width="36.8" height="60.46" fill="#89caf0" />
<rect x="534.3" y="317.98" width="36.8" height="95.22" fill="#ebb84b" />
<rect x="575.2" y="266.73" width="36.8" height="146.47" fill="#f4e97a" />
<line x1="493.3" y1="413.2" x2="530.1" y2="413.2" stroke="rgba(0,0,0,0.03)" stroke-width="0.7" />
<line x1="534.3" y1="413.2" x2="571.1" y2="413.2" stroke="rgba(0,0,0,0.03)" stroke-width="0.7" />
<line x1="575.2" y1="413.2" x2="612" y2="413.2" stroke="rgba(0,0,0,0.03)" stroke-width="0.7" />
<line x1="493.3" y1="364.7" x2="530.1" y2="364.7" stroke="rgba(0,0,0,0.03)" stroke-width="0.7" />
<line x1="534.3" y1="364.7" x2="571.1" y2="364.7" stroke="rgba(0,0,0,0.03)" stroke-width="0.7" />
<line x1="575.2" y1="364.7" x2="612" y2="364.7" stroke="rgba(0,0,0,0.03)" stroke-width="0.7" />
<line x1="575.2" y1="316.2" x2="612" y2="316.2" stroke="rgba(0,0,0,0.03)" stroke-width="0.7" />
<line x1="575.2" y1="267.7" x2="612" y2="267.7" stroke="rgba(0,0,0,0.03)" stroke-width="0.7" />
<line x1="511.7" y1="352.74" x2="511.7" y2="413.2" stroke="rgba(0,0,0,0.05)" stroke-width="0.6" />
<line x1="552.7" y1="317.98" x2="552.7" y2="413.2" stroke="rgba(0,0,0,0.05)" stroke-width="0.6" />
<line x1="593.6" y1="266.73" x2="593.6" y2="413.2" stroke="rgba(0,0,0,0.05)" stroke-width="0.6" />
<line x1="511.7" y1="349.18" x2="511.7" y2="356.29" stroke="#222" stroke-width="0.6" />
<line x1="507.7" y1="349.18" x2="515.7" y2="349.18" stroke="#222" stroke-width="0.6" />
<line x1="507.7" y1="356.29" x2="515.7" y2="356.29" stroke="#222" stroke-width="0.6" />
<line x1="552.7" y1="315.39" x2="552.7" y2="320.56" stroke="#222" stroke-width="0.6" />
<line x1="548.7" y1="315.39" x2="556.7" y2="315.39" stroke="#222" stroke-width="0.6" />
<line x1="548.7" y1="320.56" x2="556.7" y2="320.56" stroke="#222" stroke-width="0.6" />
<line x1="593.6" y1="264.14" x2="593.6" y2="269.32" stroke="#222" stroke-width="0.6" />
<line x1="589.6" y1="264.14" x2="597.6" y2="264.14" stroke="#222" stroke-width="0.6" />
<line x1="589.6" y1="269.32" x2="597.6" y2="269.32" stroke="#222" stroke-width="0.6" />
<path d="M511.7,259V257.2H552.7V259" fill="none" stroke="#555" stroke-width="0.6"/>
<text x="532.2" y="255.42" font-size="6.0" text-anchor="middle" fill="#222" font-weight="bold">**</text>
<path d="M511.7,248.3V246.5H593.6V248.3" fill="none" stroke="#555" stroke-width="0.6"/>
<text x="552.65" y="244.32" font-size="6.0" text-anchor="middle" fill="#222" font-weight="bold">***</text>
<path d="M552.7,236.2V234.4H593.6V236.2" fill="none" stroke="#555" stroke-width="0.6"/>
<text x="573.15" y="232.62" font-size="6.0" text-anchor="middle" fill="#222" font-weight="bold">***</text>
<text x="485.6" y="414.75" font-size="4.3" text-anchor="end" fill="#555" >0</text>
<text x="485.6" y="366.25" font-size="4.3" text-anchor="end" fill="#555" >30</text>
<text x="485.6" y="317.75" font-size="4.3" text-anchor="end" fill="#555" >60</text>
<text x="485.6" y="269.25" font-size="4.3" text-anchor="end" fill="#555" >90</text>
<text transform="translate(478.4,323.5) rotate(-90)" font-size="5.0" text-anchor="middle" fill="#222">Relative Percentage (%)</text>
<text x="487.5" y="222.4" font-size="5.9" text-anchor="start" fill="#111" >Comparison of Relative Percentage</text>
<text x="625.9" y="312.8" font-size="5.0" text-anchor="start" fill="#222" >Group</text>
<rect x="625.9" y="316" width="7" height="7.5" fill="#89caf0" />
<text x="634.9" y="321.3" font-size="4.3" text-anchor="start" fill="#222" >siCtrl</text>
<rect x="625.9" y="323.7" width="7" height="7.5" fill="#ebb84b" />
<text x="634.9" y="329" font-size="4.3" text-anchor="start" fill="#222" >siCtrl+TGF-β</text>
<rect x="625.9" y="331.4" width="7" height="7.5" fill="#f4e97a" />
<text x="634.9" y="336.7" font-size="4.3" text-anchor="start" fill="#222" >siABHD5+TGF-β</text>
<text x="-1.6" y="442.5" font-size="17" text-anchor="start" fill="#000" >D</text>
<text x="1.4" y="656.8" font-size="16.5" text-anchor="start" fill="#000" >E</text>
<line x1="20.4" y1="585.8" x2="101.6" y2="585.8" stroke="#f1f1f1" stroke-width="0.5" />
<line x1="20.4" y1="555.4" x2="101.6" y2="555.4" stroke="#f1f1f1" stroke-width="0.5" />
<line x1="20.4" y1="525" x2="101.6" y2="525" stroke="#f1f1f1" stroke-width="0.5" />
<line x1="20.4" y1="494.6" x2="101.6" y2="494.6" stroke="#f1f1f1" stroke-width="0.5" />
<line x1="20.4" y1="464.2" x2="101.6" y2="464.2" stroke="#f1f1f1" stroke-width="0.5" />
<line x1="20.4" y1="601" x2="101.6" y2="601" stroke="#e8e8e8" stroke-width="0.6" />
<line x1="20.4" y1="570.6" x2="101.6" y2="570.6" stroke="#e8e8e8" stroke-width="0.6" />
<line x1="20.4" y1="540.2" x2="101.6" y2="540.2" stroke="#e8e8e8" stroke-width="0.6" />
<line x1="20.4" y1="509.8" x2="101.6" y2="509.8" stroke="#e8e8e8" stroke-width="0.6" />
<line x1="20.4" y1="479.4" x2="101.6" y2="479.4" stroke="#e8e8e8" stroke-width="0.6" />
<line x1="20.4" y1="449" x2="101.6" y2="449" stroke="#e8e8e8" stroke-width="0.6" />
<line x1="35.5" y1="444.8" x2="35.5" y2="608" stroke="#e8e8e8" stroke-width="0.6" />
<line x1="60.9" y1="444.8" x2="60.9" y2="608" stroke="#e8e8e8" stroke-width="0.6" />
<line x1="86.1" y1="444.8" x2="86.1" y2="608" stroke="#e8e8e8" stroke-width="0.6" />
<rect x="24.3" y="480.62" width="22.4" height="120.38" fill="#f99a93" />
<rect x="49.7" y="481.95" width="22.4" height="119.05" fill="#4dd2d6" />
<rect x="74.9" y="526.95" width="22.4" height="74.05" fill="#a3c64c" />
<line x1="24.3" y1="601" x2="46.7" y2="601" stroke="rgba(0,0,0,0.03)" stroke-width="0.7" />
<line x1="49.7" y1="601" x2="72.1" y2="601" stroke="rgba(0,0,0,0.03)" stroke-width="0.7" />
<line x1="74.9" y1="601" x2="97.3" y2="601" stroke="rgba(0,0,0,0.03)" stroke-width="0.7" />
<line x1="24.3" y1="570.6" x2="46.7" y2="570.6" stroke="rgba(0,0,0,0.03)" stroke-width="0.7" />
<line x1="49.7" y1="570.6" x2="72.1" y2="570.6" stroke="rgba(0,0,0,0.03)" stroke-width="0.7" />
<line x1="74.9" y1="570.6" x2="97.3" y2="570.6" stroke="rgba(0,0,0,0.03)" stroke-width="0.7" />
<line x1="24.3" y1="540.2" x2="46.7" y2="540.2" stroke="rgba(0,0,0,0.03)" stroke-width="0.7" />
<line x1="49.7" y1="540.2" x2="72.1" y2="540.2" stroke="rgba(0,0,0,0.03)" stroke-width="0.7" />
<line x1="74.9" y1="540.2" x2="97.3" y2="540.2" stroke="rgba(0,0,0,0.03)" stroke-width="0.7" />
<line x1="24.3" y1="509.8" x2="46.7" y2="509.8" stroke="rgba(0,0,0,0.03)" stroke-width="0.7" />
<line x1="49.7" y1="509.8" x2="72.1" y2="509.8" stroke="rgba(0,0,0,0.03)" stroke-width="0.7" />
<line x1="35.5" y1="480.62" x2="35.5" y2="601" stroke="rgba(0,0,0,0.05)" stroke-width="0.6" />
<line x1="60.9" y1="481.95" x2="60.9" y2="601" stroke="rgba(0,0,0,0.05)" stroke-width="0.6" />
<line x1="86.1" y1="526.95" x2="86.1" y2="601" stroke="rgba(0,0,0,0.05)" stroke-width="0.6" />
<line x1="35.5" y1="474.29" x2="35.5" y2="486.94" stroke="#222" stroke-width="0.65" />
<line x1="32.1" y1="474.29" x2="38.9" y2="474.29" stroke="#222" stroke-width="0.65" />
<line x1="32.1" y1="486.94" x2="38.9" y2="486.94" stroke="#222" stroke-width="0.65" />
<line x1="60.9" y1="477.33" x2="60.9" y2="486.57" stroke="#222" stroke-width="0.65" />
<line x1="57.5" y1="477.33" x2="64.3" y2="477.33" stroke="#222" stroke-width="0.65" />
<line x1="57.5" y1="486.57" x2="64.3" y2="486.57" stroke="#222" stroke-width="0.65" />
<line x1="86.1" y1="523.05" x2="86.1" y2="530.84" stroke="#222" stroke-width="0.65" />
<line x1="82.7" y1="523.05" x2="89.5" y2="523.05" stroke="#222" stroke-width="0.65" />
<line x1="82.7" y1="530.84" x2="89.5" y2="530.84" stroke="#222" stroke-width="0.65" />
<path d="M35.5,468.4V467H60.9V468.4" fill="none" stroke="#555" stroke-width="0.5"/>
<text x="48.2" y="465.2" font-size="4.7" text-anchor="middle" fill="#222" >ns</text>
<path d="M35.5,460.5V459.1H86.1V460.5" fill="none" stroke="#555" stroke-width="0.5"/>
<text x="60.8" y="457.3" font-size="4.7" text-anchor="middle" fill="#222" >ns</text>
<path d="M60.9,452.8V451.4H86.1V452.8" fill="none" stroke="#555" stroke-width="0.5"/>
<text x="73.5" y="449.68" font-size="4.7" text-anchor="middle" fill="#222" font-weight="bold">**</text>
<text x="19" y="602.19" font-size="3.3" text-anchor="end" fill="#555" >0.00</text>
<text x="19" y="571.79" font-size="3.3" text-anchor="end" fill="#555" >0.25</text>
<text x="19" y="541.39" font-size="3.3" text-anchor="end" fill="#555" >0.50</text>
<text x="19" y="510.99" font-size="3.3" text-anchor="end" fill="#555" >0.75</text>
<text x="19" y="480.59" font-size="3.3" text-anchor="end" fill="#555" >1.00</text>
<text x="19" y="450.19" font-size="3.3" text-anchor="end" fill="#555" >1.25</text>
<text x="35.5" y="612.8" font-size="3.1" text-anchor="middle" fill="#555" >siCtrl</text>
<text x="60.9" y="612.8" font-size="3.1" text-anchor="middle" fill="#555" >siCtrl+TGF-β</text>
<text x="86.1" y="612.8" font-size="3.1" text-anchor="middle" fill="#555" >siABHD5+TGF-β</text>
<text x="60.9" y="617" font-size="3.7" text-anchor="middle" fill="#222" >Group</text>
<text transform="translate(11.65,526.6) rotate(-90)" font-size="3.9" text-anchor="middle" fill="#222">Expression</text>
<text x="20.4" y="441.9" font-size="4.5" text-anchor="start" fill="#111" >ABHD5</text>
<line x1="114.7" y1="584.15" x2="197.3" y2="584.15" stroke="#f1f1f1" stroke-width="0.5" />
<line x1="114.7" y1="551.65" x2="197.3" y2="551.65" stroke="#f1f1f1" stroke-width="0.5" />
<line x1="114.7" y1="519.15" x2="197.3" y2="519.15" stroke="#f1f1f1" stroke-width="0.5" />
<line x1="114.7" y1="486.65" x2="197.3" y2="486.65" stroke="#f1f1f1" stroke-width="0.5" />
<line x1="114.7" y1="454.15" x2="197.3" y2="454.15" stroke="#f1f1f1" stroke-width="0.5" />
<line x1="114.7" y1="600.4" x2="197.3" y2="600.4" stroke="#e8e8e8" stroke-width="0.6" />
<line x1="114.7" y1="567.9" x2="197.3" y2="567.9" stroke="#e8e8e8" stroke-width="0.6" />
<line x1="114.7" y1="535.4" x2="197.3" y2="535.4" stroke="#e8e8e8" stroke-width="0.6" />
<line x1="114.7" y1="502.9" x2="197.3" y2="502.9" stroke="#e8e8e8" stroke-width="0.6" />
<line x1="114.7" y1="470.4" x2="197.3" y2="470.4" stroke="#e8e8e8" stroke-width="0.6" />
<line x1="130.3" y1="444.8" x2="130.3" y2="608" stroke="#e8e8e8" stroke-width="0.6" />
<line x1="156" y1="444.8" x2="156" y2="608" stroke="#e8e8e8" stroke-width="0.6" />
<line x1="181.6" y1="444.8" x2="181.6" y2="608" stroke="#e8e8e8" stroke-width="0.6" />
<rect x="119.1" y="532.41" width="22.4" height="67.99" fill="#f99a93" />
<rect x="144.8" y="516.55" width="22.4" height="83.85" fill="#4dd2d6" />
<rect x="170.4" y="475.6" width="22.4" height="124.8" fill="#a3c64c" />
<line x1="119.1" y1="600.4" x2="141.5" y2="600.4" stroke="rgba(0,0,0,0.03)" stroke-width="0.7" />
<line x1="144.8" y1="600.4" x2="167.2" y2="600.4" stroke="rgba(0,0,0,0.03)" stroke-width="0.7" />
<line x1="170.4" y1="600.4" x2="192.8" y2="600.4" stroke="rgba(0,0,0,0.03)" stroke-width="0.7" />
<line x1="119.1" y1="567.9" x2="141.5" y2="567.9" stroke="rgba(0,0,0,0.03)" stroke-width="0.7" />
<line x1="144.8" y1="567.9" x2="167.2" y2="567.9" stroke="rgba(0,0,0,0.03)" stroke-width="0.7" />
<line x1="170.4" y1="567.9" x2="192.8" y2="567.9" stroke="rgba(0,0,0,0.03)" stroke-width="0.7" />
<line x1="119.1" y1="535.4" x2="141.5" y2="535.4" stroke="rgba(0,0,0,0.03)" stroke-width="0.7" />
<line x1="144.8" y1="535.4" x2="167.2" y2="535.4" stroke="rgba(0,0,0,0.03)" stroke-width="0.7" />
<line x1="170.4" y1="535.4" x2="192.8" y2="535.4" stroke="rgba(0,0,0,0.03)" stroke-width="0.7" />
<line x1="170.4" y1="502.9" x2="192.8" y2="502.9" stroke="rgba(0,0,0,0.03)" stroke-width="0.7" />
<line x1="130.3" y1="532.41" x2="130.3" y2="600.4" stroke="rgba(0,0,0,0.05)" stroke-width="0.6" />
<line x1="156" y1="516.55" x2="156" y2="600.4" stroke="rgba(0,0,0,0.05)" stroke-width="0.6" />
<line x1="181.6" y1="475.6" x2="181.6" y2="600.4" stroke="rgba(0,0,0,0.05)" stroke-width="0.6" />
<line x1="130.3" y1="531.76" x2="130.3" y2="533.06" stroke="#222" stroke-width="0.65" />
<line x1="126.9" y1="531.76" x2="133.7" y2="531.76" stroke="#222" stroke-width="0.65" />
<line x1="126.9" y1="533.06" x2="133.7" y2="533.06" stroke="#222" stroke-width="0.65" />
<line x1="156" y1="516.23" x2="156" y2="516.88" stroke="#222" stroke-width="0.65" />
<line x1="152.6" y1="516.23" x2="159.4" y2="516.23" stroke="#222" stroke-width="0.65" />
<line x1="152.6" y1="516.88" x2="159.4" y2="516.88" stroke="#222" stroke-width="0.65" />
<line x1="181.6" y1="472.54" x2="181.6" y2="478.65" stroke="#222" stroke-width="0.65" />
<line x1="178.2" y1="472.54" x2="185" y2="472.54" stroke="#222" stroke-width="0.65" />
<line x1="178.2" y1="478.65" x2="185" y2="478.65" stroke="#222" stroke-width="0.65" />
<path d="M130.3,468.6V467.2H156V468.6" fill="none" stroke="#555" stroke-width="0.5"/>
<text x="143.15" y="465.28" font-size="4.7" text-anchor="middle" fill="#222" font-weight="bold">***</text>
<path d="M130.3,460.8V459.4H181.6V460.8" fill="none" stroke="#555" stroke-width="0.5"/>
<text x="155.95" y="457.68" font-size="4.7" text-anchor="middle" fill="#222" font-weight="bold">***</text>
<path d="M156,452.8V451.4H181.6V452.8" fill="none" stroke="#555" stroke-width="0.5"/>
<text x="168.8" y="449.98" font-size="4.7" text-anchor="middle" fill="#222" font-weight="bold">**</text>
<text x="113.3" y="601.59" font-size="3.3" text-anchor="end" fill="#555" >0.0</text>
<text x="113.3" y="569.09" font-size="3.3" text-anchor="end" fill="#555" >0.5</text>
<text x="113.3" y="536.59" font-size="3.3" text-anchor="end" fill="#555" >1.0</text>
<text x="113.3" y="504.09" font-size="3.3" text-anchor="end" fill="#555" >1.5</text>
<text x="113.3" y="471.59" font-size="3.3" text-anchor="end" fill="#555" >2.0</text>
<text x="130.3" y="612.8" font-size="3.1" text-anchor="middle" fill="#555" >siCtrl</text>
<text x="156" y="612.8" font-size="3.1" text-anchor="middle" fill="#555" >siCtrl+TGF-β</text>
<text x="181.6" y="612.8" font-size="3.1" text-anchor="middle" fill="#555" >siABHD5+TGF-β</text>
<text x="156" y="617" font-size="3.7" text-anchor="middle" fill="#222" >Group</text>
<text transform="translate(106.65,526.6) rotate(-90)" font-size="3.9" text-anchor="middle" fill="#222">Expression</text>
<text x="114.7" y="441.9" font-size="4.5" text-anchor="start" fill="#111" >COL1</text>
<line x1="210.4" y1="581.25" x2="293" y2="581.25" stroke="#f1f1f1" stroke-width="0.5" />
<line x1="210.4" y1="542.15" x2="293" y2="542.15" stroke="#f1f1f1" stroke-width="0.5" />
<line x1="210.4" y1="503.05" x2="293" y2="503.05" stroke="#f1f1f1" stroke-width="0.5" />
<line x1="210.4" y1="463.95" x2="293" y2="463.95" stroke="#f1f1f1" stroke-width="0.5" />
<line x1="210.4" y1="600.8" x2="293" y2="600.8" stroke="#e8e8e8" stroke-width="0.6" />
<line x1="210.4" y1="561.7" x2="293" y2="561.7" stroke="#e8e8e8" stroke-width="0.6" />
<line x1="210.4" y1="522.6" x2="293" y2="522.6" stroke="#e8e8e8" stroke-width="0.6" />
<line x1="210.4" y1="483.5" x2="293" y2="483.5" stroke="#e8e8e8" stroke-width="0.6" />
<line x1="210.4" y1="444.4" x2="293" y2="444.4" stroke="#e8e8e8" stroke-width="0.6" />
<line x1="226.5" y1="444.8" x2="226.5" y2="608" stroke="#e8e8e8" stroke-width="0.6" />
<line x1="252" y1="444.8" x2="252" y2="608" stroke="#e8e8e8" stroke-width="0.6" />
<line x1="277.6" y1="444.8" x2="277.6" y2="608" stroke="#e8e8e8" stroke-width="0.6" />
<rect x="215.3" y="522.6" width="22.4" height="78.2" fill="#f99a93" />
<rect x="240.8" y="499.14" width="22.4" height="101.66" fill="#4dd2d6" />
<rect x="266.4" y="474.12" width="22.4" height="126.68" fill="#a3c64c" />
<line x1="215.3" y1="600.8" x2="237.7" y2="600.8" stroke="rgba(0,0,0,0.03)" stroke-width="0.7" />
<line x1="240.8" y1="600.8" x2="263.2" y2="600.8" stroke="rgba(0,0,0,0.03)" stroke-width="0.7" />
<line x1="266.4" y1="600.8" x2="288.8" y2="600.8" stroke="rgba(0,0,0,0.03)" stroke-width="0.7" />
<line x1="215.3" y1="561.7" x2="237.7" y2="561.7" stroke="rgba(0,0,0,0.03)" stroke-width="0.7" />
<line x1="240.8" y1="561.7" x2="263.2" y2="561.7" stroke="rgba(0,0,0,0.03)" stroke-width="0.7" />
<line x1="266.4" y1="561.7" x2="288.8" y2="561.7" stroke="rgba(0,0,0,0.03)" stroke-width="0.7" />
<line x1="240.8" y1="522.6" x2="263.2" y2="522.6" stroke="rgba(0,0,0,0.03)" stroke-width="0.7" />
<line x1="266.4" y1="522.6" x2="288.8" y2="522.6" stroke="rgba(0,0,0,0.03)" stroke-width="0.7" />
<line x1="266.4" y1="483.5" x2="288.8" y2="483.5" stroke="rgba(0,0,0,0.03)" stroke-width="0.7" />
<line x1="226.5" y1="522.6" x2="226.5" y2="600.8" stroke="rgba(0,0,0,0.05)" stroke-width="0.6" />
<line x1="252" y1="499.14" x2="252" y2="600.8" stroke="rgba(0,0,0,0.05)" stroke-width="0.6" />
<line x1="277.6" y1="474.12" x2="277.6" y2="600.8" stroke="rgba(0,0,0,0.05)" stroke-width="0.6" />
<line x1="226.5" y1="522.21" x2="226.5" y2="522.99" stroke="#222" stroke-width="0.65" />
<line x1="223.1" y1="522.21" x2="229.9" y2="522.21" stroke="#222" stroke-width="0.65" />
<line x1="223.1" y1="522.99" x2="229.9" y2="522.99" stroke="#222" stroke-width="0.65" />
<line x1="252" y1="493.59" x2="252" y2="504.69" stroke="#222" stroke-width="0.65" />
<line x1="248.6" y1="493.59" x2="255.4" y2="493.59" stroke="#222" stroke-width="0.65" />
<line x1="248.6" y1="504.69" x2="255.4" y2="504.69" stroke="#222" stroke-width="0.65" />
<line x1="277.6" y1="471.22" x2="277.6" y2="477.01" stroke="#222" stroke-width="0.65" />
<line x1="274.2" y1="471.22" x2="281" y2="471.22" stroke="#222" stroke-width="0.65" />
<line x1="274.2" y1="477.01" x2="281" y2="477.01" stroke="#222" stroke-width="0.65" />
<path d="M226.5,466.7V465.3H252V466.7" fill="none" stroke="#555" stroke-width="0.5"/>
<text x="239.25" y="463.58" font-size="4.7" text-anchor="middle" fill="#222" font-weight="bold">*</text>
<path d="M226.5,459.8V458.4H277.6V459.8" fill="none" stroke="#555" stroke-width="0.5"/>
<text x="252.05" y="456.2" font-size="4.7" text-anchor="middle" fill="#222" >ns</text>
<path d="M252,452.8V451.4H277.6V452.8" fill="none" stroke="#555" stroke-width="0.5"/>
<text x="264.8" y="449.98" font-size="4.7" text-anchor="middle" fill="#222" font-weight="bold">*</text>
<text x="209" y="601.99" font-size="3.3" text-anchor="end" fill="#555" >0.0</text>
<text x="209" y="562.89" font-size="3.3" text-anchor="end" fill="#555" >0.5</text>
<text x="209" y="523.79" font-size="3.3" text-anchor="end" fill="#555" >1.0</text>
<text x="209" y="484.69" font-size="3.3" text-anchor="end" fill="#555" >1.5</text>
<text x="209" y="445.59" font-size="3.3" text-anchor="end" fill="#555" >2.0</text>
<text x="226.5" y="612.8" font-size="3.1" text-anchor="middle" fill="#555" >siCtrl</text>
<text x="252" y="612.8" font-size="3.1" text-anchor="middle" fill="#555" >siCtrl+TGF-β</text>
<text x="277.6" y="612.8" font-size="3.1" text-anchor="middle" fill="#555" >siABHD5+TGF-β</text>
<text x="252" y="617" font-size="3.7" text-anchor="middle" fill="#222" >Group</text>
<text transform="translate(202.15,526.6) rotate(-90)" font-size="3.9" text-anchor="middle" fill="#222">Expression</text>
<text x="210.4" y="441.9" font-size="4.5" text-anchor="start" fill="#111" >COL3</text>
<line x1="306.9" y1="580.65" x2="389" y2="580.65" stroke="#f1f1f1" stroke-width="0.5" />
<line x1="306.9" y1="538.95" x2="389" y2="538.95" stroke="#f1f1f1" stroke-width="0.5" />
<line x1="306.9" y1="497.25" x2="389" y2="497.25" stroke="#f1f1f1" stroke-width="0.5" />
<line x1="306.9" y1="455.55" x2="389" y2="455.55" stroke="#f1f1f1" stroke-width="0.5" />
<line x1="306.9" y1="601.5" x2="389" y2="601.5" stroke="#e8e8e8" stroke-width="0.6" />
<line x1="306.9" y1="559.8" x2="389" y2="559.8" stroke="#e8e8e8" stroke-width="0.6" />
<line x1="306.9" y1="518.1" x2="389" y2="518.1" stroke="#e8e8e8" stroke-width="0.6" />
<line x1="306.9" y1="476.4" x2="389" y2="476.4" stroke="#e8e8e8" stroke-width="0.6" />
<line x1="322.5" y1="444.8" x2="322.5" y2="608" stroke="#e8e8e8" stroke-width="0.6" />
<line x1="348.1" y1="444.8" x2="348.1" y2="608" stroke="#e8e8e8" stroke-width="0.6" />
<line x1="373.6" y1="444.8" x2="373.6" y2="608" stroke="#e8e8e8" stroke-width="0.6" />
<rect x="311.3" y="518.1" width="22.4" height="83.4" fill="#f99a93" />
<rect x="336.9" y="491.83" width="22.4" height="109.67" fill="#4dd2d6" />
<rect x="362.4" y="470.14" width="22.4" height="131.36" fill="#a3c64c" />
<line x1="311.3" y1="601.5" x2="333.7" y2="601.5" stroke="rgba(0,0,0,0.03)" stroke-width="0.7" />
<line x1="336.9" y1="601.5" x2="359.3" y2="601.5" stroke="rgba(0,0,0,0.03)" stroke-width="0.7" />
<line x1="362.4" y1="601.5" x2="384.8" y2="601.5" stroke="rgba(0,0,0,0.03)" stroke-width="0.7" />
<line x1="311.3" y1="559.8" x2="333.7" y2="559.8" stroke="rgba(0,0,0,0.03)" stroke-width="0.7" />
<line x1="336.9" y1="559.8" x2="359.3" y2="559.8" stroke="rgba(0,0,0,0.03)" stroke-width="0.7" />
<line x1="362.4" y1="559.8" x2="384.8" y2="559.8" stroke="rgba(0,0,0,0.03)" stroke-width="0.7" />
<line x1="336.9" y1="518.1" x2="359.3" y2="518.1" stroke="rgba(0,0,0,0.03)" stroke-width="0.7" />
<line x1="362.4" y1="518.1" x2="384.8" y2="518.1" stroke="rgba(0,0,0,0.03)" stroke-width="0.7" />
<line x1="362.4" y1="476.4" x2="384.8" y2="476.4" stroke="rgba(0,0,0,0.03)" stroke-width="0.7" />
<line x1="322.5" y1="518.1" x2="322.5" y2="601.5" stroke="rgba(0,0,0,0.05)" stroke-width="0.6" />
<line x1="348.1" y1="491.83" x2="348.1" y2="601.5" stroke="rgba(0,0,0,0.05)" stroke-width="0.6" />
<line x1="373.6" y1="470.14" x2="373.6" y2="601.5" stroke="rgba(0,0,0,0.05)" stroke-width="0.6" />
<line x1="322.5" y1="514.35" x2="322.5" y2="521.85" stroke="#222" stroke-width="0.65" />
<line x1="319.1" y1="514.35" x2="325.9" y2="514.35" stroke="#222" stroke-width="0.65" />
<line x1="319.1" y1="521.85" x2="325.9" y2="521.85" stroke="#222" stroke-width="0.65" />
<line x1="348.1" y1="491.41" x2="348.1" y2="492.25" stroke="#222" stroke-width="0.65" />
<line x1="344.7" y1="491.41" x2="351.5" y2="491.41" stroke="#222" stroke-width="0.65" />
<line x1="344.7" y1="492.25" x2="351.5" y2="492.25" stroke="#222" stroke-width="0.65" />
<line x1="373.6" y1="468.56" x2="373.6" y2="471.73" stroke="#222" stroke-width="0.65" />
<line x1="370.2" y1="468.56" x2="377" y2="468.56" stroke="#222" stroke-width="0.65" />
<line x1="370.2" y1="471.73" x2="377" y2="471.73" stroke="#222" stroke-width="0.65" />
<path d="M322.5,466.9V465.5H348.1V466.9" fill="none" stroke="#555" stroke-width="0.5"/>
<text x="335.3" y="463.88" font-size="4.7" text-anchor="middle" fill="#222" font-weight="bold">*</text>
<path d="M322.5,459.8V458.4H373.6V459.8" fill="none" stroke="#555" stroke-width="0.5"/>
<text x="348.05" y="456.2" font-size="4.7" text-anchor="middle" fill="#222" >ns</text>
<path d="M348.1,452.8V451.4H373.6V452.8" fill="none" stroke="#555" stroke-width="0.5"/>
<text x="360.85" y="449.98" font-size="4.7" text-anchor="middle" fill="#222" font-weight="bold">**</text>
<text x="305.5" y="602.69" font-size="3.3" text-anchor="end" fill="#555" >0.0</text>
<text x="305.5" y="560.99" font-size="3.3" text-anchor="end" fill="#555" >0.5</text>
<text x="305.5" y="519.29" font-size="3.3" text-anchor="end" fill="#555" >1.0</text>
<text x="305.5" y="477.59" font-size="3.3" text-anchor="end" fill="#555" >1.5</text>
<text x="322.5" y="612.8" font-size="3.1" text-anchor="middle" fill="#555" >siCtrl</text>
<text x="348.1" y="612.8" font-size="3.1" text-anchor="middle" fill="#555" >siCtrl+TGF-β</text>
<text x="373.6" y="612.8" font-size="3.1" text-anchor="middle" fill="#555" >siABHD5+TGF-β</text>
<text x="348.1" y="617" font-size="3.7" text-anchor="middle" fill="#222" >Group</text>
<text transform="translate(298.65,526.6) rotate(-90)" font-size="3.9" text-anchor="middle" fill="#222">Expression</text>
<text x="306.9" y="441.9" font-size="4.5" text-anchor="start" fill="#111" >a_SMA</text>
<line x1="17.5" y1="767.65" x2="100.5" y2="767.65" stroke="#f1f1f1" stroke-width="0.5" />
<line x1="17.5" y1="707.95" x2="100.5" y2="707.95" stroke="#f1f1f1" stroke-width="0.5" />
<line x1="17.5" y1="648.25" x2="100.5" y2="648.25" stroke="#f1f1f1" stroke-width="0.5" />
<line x1="17.5" y1="797.5" x2="100.5" y2="797.5" stroke="#e8e8e8" stroke-width="0.6" />
<line x1="17.5" y1="737.8" x2="100.5" y2="737.8" stroke="#e8e8e8" stroke-width="0.6" />
<line x1="17.5" y1="678.1" x2="100.5" y2="678.1" stroke="#e8e8e8" stroke-width="0.6" />
<line x1="32.8" y1="639.7" x2="32.8" y2="804" stroke="#e8e8e8" stroke-width="0.6" />
<line x1="58.7" y1="639.7" x2="58.7" y2="804" stroke="#e8e8e8" stroke-width="0.6" />
<line x1="84.4" y1="639.7" x2="84.4" y2="804" stroke="#e8e8e8" stroke-width="0.6" />
<rect x="21.6" y="678.1" width="22.4" height="119.4" fill="#f99a93" />
<rect x="47.5" y="681.68" width="22.4" height="115.82" fill="#4dd2d6" />
<rect x="73.2" y="738.99" width="22.4" height="58.51" fill="#a3c64c" />
<line x1="21.6" y1="797.5" x2="44" y2="797.5" stroke="rgba(0,0,0,0.03)" stroke-width="0.7" />
<line x1="47.5" y1="797.5" x2="69.9" y2="797.5" stroke="rgba(0,0,0,0.03)" stroke-width="0.7" />
<line x1="73.2" y1="797.5" x2="95.6" y2="797.5" stroke="rgba(0,0,0,0.03)" stroke-width="0.7" />
<line x1="21.6" y1="737.8" x2="44" y2="737.8" stroke="rgba(0,0,0,0.03)" stroke-width="0.7" />
<line x1="47.5" y1="737.8" x2="69.9" y2="737.8" stroke="rgba(0,0,0,0.03)" stroke-width="0.7" />
<line x1="32.8" y1="678.1" x2="32.8" y2="797.5" stroke="rgba(0,0,0,0.05)" stroke-width="0.6" />
<line x1="58.7" y1="681.68" x2="58.7" y2="797.5" stroke="rgba(0,0,0,0.05)" stroke-width="0.6" />
<line x1="84.4" y1="738.99" x2="84.4" y2="797.5" stroke="rgba(0,0,0,0.05)" stroke-width="0.6" />
<line x1="32.8" y1="672.49" x2="32.8" y2="683.71" stroke="#222" stroke-width="0.65" />
<line x1="29.4" y1="672.49" x2="36.2" y2="672.49" stroke="#222" stroke-width="0.65" />
<line x1="29.4" y1="683.71" x2="36.2" y2="683.71" stroke="#222" stroke-width="0.65" />
<line x1="58.7" y1="678.7" x2="58.7" y2="684.67" stroke="#222" stroke-width="0.65" />
<line x1="55.3" y1="678.7" x2="62.1" y2="678.7" stroke="#222" stroke-width="0.65" />
<line x1="55.3" y1="684.67" x2="62.1" y2="684.67" stroke="#222" stroke-width="0.65" />
<line x1="84.4" y1="736.84" x2="84.4" y2="741.14" stroke="#222" stroke-width="0.65" />
<line x1="81" y1="736.84" x2="87.8" y2="736.84" stroke="#222" stroke-width="0.65" />
<line x1="81" y1="741.14" x2="87.8" y2="741.14" stroke="#222" stroke-width="0.65" />
<path d="M32.8,666.7V665.3H58.7V666.7" fill="none" stroke="#555" stroke-width="0.5"/>
<text x="45.75" y="663.6" font-size="4.7" text-anchor="middle" fill="#222" >ns</text>
<path d="M32.8,657.6V656.2H84.4V657.6" fill="none" stroke="#555" stroke-width="0.5"/>
<text x="58.6" y="654.78" font-size="4.7" text-anchor="middle" fill="#222" font-weight="bold">**</text>
<path d="M58.7,648.8V647.4H84.4V648.8" fill="none" stroke="#555" stroke-width="0.5"/>
<text x="71.55" y="645.58" font-size="4.7" text-anchor="middle" fill="#222" font-weight="bold">***</text>
<text x="16.1" y="798.69" font-size="3.3" text-anchor="end" fill="#555" >0.0</text>
<text x="16.1" y="738.99" font-size="3.3" text-anchor="end" fill="#555" >0.5</text>
<text x="16.1" y="679.29" font-size="3.3" text-anchor="end" fill="#555" >1.0</text>
<text x="32.8" y="809" font-size="3.1" text-anchor="middle" fill="#555" >siCtrl</text>
<text x="58.7" y="809" font-size="3.1" text-anchor="middle" fill="#555" >siCtrl+TGF-β</text>
<text x="84.4" y="809" font-size="3.1" text-anchor="middle" fill="#555" >siABHD5+TGF-β</text>
<text x="58.7" y="813.2" font-size="3.7" text-anchor="middle" fill="#222" >Group</text>
<text transform="translate(9.65,722.05) rotate(-90)" font-size="3.9" text-anchor="middle" fill="#222">Expression</text>
<text x="17.5" y="637.8" font-size="4.5" text-anchor="start" fill="#111" >ABHD5</text>
<line x1="114" y1="779.15" x2="197" y2="779.15" stroke="#f1f1f1" stroke-width="0.5" />
<line x1="114" y1="744.85" x2="197" y2="744.85" stroke="#f1f1f1" stroke-width="0.5" />
<line x1="114" y1="710.55" x2="197" y2="710.55" stroke="#f1f1f1" stroke-width="0.5" />
<line x1="114" y1="676.25" x2="197" y2="676.25" stroke="#f1f1f1" stroke-width="0.5" />
<line x1="114" y1="641.95" x2="197" y2="641.95" stroke="#f1f1f1" stroke-width="0.5" />
<line x1="114" y1="796.3" x2="197" y2="796.3" stroke="#e8e8e8" stroke-width="0.6" />
<line x1="114" y1="762" x2="197" y2="762" stroke="#e8e8e8" stroke-width="0.6" />
<line x1="114" y1="727.7" x2="197" y2="727.7" stroke="#e8e8e8" stroke-width="0.6" />
<line x1="114" y1="693.4" x2="197" y2="693.4" stroke="#e8e8e8" stroke-width="0.6" />
<line x1="114" y1="659.1" x2="197" y2="659.1" stroke="#e8e8e8" stroke-width="0.6" />
<line x1="129.6" y1="639.7" x2="129.6" y2="804" stroke="#e8e8e8" stroke-width="0.6" />
<line x1="155.1" y1="639.7" x2="155.1" y2="804" stroke="#e8e8e8" stroke-width="0.6" />
<line x1="180.7" y1="639.7" x2="180.7" y2="804" stroke="#e8e8e8" stroke-width="0.6" />
<rect x="118.4" y="725.64" width="22.4" height="70.66" fill="#f99a93" />
<rect x="143.9" y="709.18" width="22.4" height="87.12" fill="#4dd2d6" />
<rect x="169.5" y="669.39" width="22.4" height="126.91" fill="#a3c64c" />
<line x1="118.4" y1="796.3" x2="140.8" y2="796.3" stroke="rgba(0,0,0,0.03)" stroke-width="0.7" />
<line x1="143.9" y1="796.3" x2="166.3" y2="796.3" stroke="rgba(0,0,0,0.03)" stroke-width="0.7" />
<line x1="169.5" y1="796.3" x2="191.9" y2="796.3" stroke="rgba(0,0,0,0.03)" stroke-width="0.7" />
<line x1="118.4" y1="762" x2="140.8" y2="762" stroke="rgba(0,0,0,0.03)" stroke-width="0.7" />
<line x1="143.9" y1="762" x2="166.3" y2="762" stroke="rgba(0,0,0,0.03)" stroke-width="0.7" />
<line x1="169.5" y1="762" x2="191.9" y2="762" stroke="rgba(0,0,0,0.03)" stroke-width="0.7" />
<line x1="118.4" y1="727.7" x2="140.8" y2="727.7" stroke="rgba(0,0,0,0.03)" stroke-width="0.7" />
<line x1="143.9" y1="727.7" x2="166.3" y2="727.7" stroke="rgba(0,0,0,0.03)" stroke-width="0.7" />
<line x1="169.5" y1="727.7" x2="191.9" y2="727.7" stroke="rgba(0,0,0,0.03)" stroke-width="0.7" />
<line x1="169.5" y1="693.4" x2="191.9" y2="693.4" stroke="rgba(0,0,0,0.03)" stroke-width="0.7" />
<line x1="129.6" y1="725.64" x2="129.6" y2="796.3" stroke="rgba(0,0,0,0.05)" stroke-width="0.6" />
<line x1="155.1" y1="709.18" x2="155.1" y2="796.3" stroke="rgba(0,0,0,0.05)" stroke-width="0.6" />
<line x1="180.7" y1="669.39" x2="180.7" y2="796.3" stroke="rgba(0,0,0,0.05)" stroke-width="0.6" />
<line x1="129.6" y1="724.96" x2="129.6" y2="726.33" stroke="#222" stroke-width="0.65" />
<line x1="126.2" y1="724.96" x2="133" y2="724.96" stroke="#222" stroke-width="0.65" />
<line x1="126.2" y1="726.33" x2="133" y2="726.33" stroke="#222" stroke-width="0.65" />
<line x1="155.1" y1="707.81" x2="155.1" y2="710.55" stroke="#222" stroke-width="0.65" />
<line x1="151.7" y1="707.81" x2="158.5" y2="707.81" stroke="#222" stroke-width="0.65" />
<line x1="151.7" y1="710.55" x2="158.5" y2="710.55" stroke="#222" stroke-width="0.65" />
<line x1="180.7" y1="667.33" x2="180.7" y2="671.45" stroke="#222" stroke-width="0.65" />
<line x1="177.3" y1="667.33" x2="184.1" y2="667.33" stroke="#222" stroke-width="0.65" />
<line x1="177.3" y1="671.45" x2="184.1" y2="671.45" stroke="#222" stroke-width="0.65" />
<path d="M129.6,663.7V662.3H155.1V663.7" fill="none" stroke="#555" stroke-width="0.5"/>
<text x="142.35" y="660.68" font-size="4.7" text-anchor="middle" fill="#222" font-weight="bold">***</text>
<path d="M129.6,656.1V654.7H180.7V656.1" fill="none" stroke="#555" stroke-width="0.5"/>
<text x="155.15" y="653.38" font-size="4.7" text-anchor="middle" fill="#222" font-weight="bold">***</text>
<path d="M155.1,648.7V647.3H180.7V648.7" fill="none" stroke="#555" stroke-width="0.5"/>
<text x="167.9" y="645.68" font-size="4.7" text-anchor="middle" fill="#222" font-weight="bold">***</text>
<text x="112.6" y="797.49" font-size="3.3" text-anchor="end" fill="#555" >0.0</text>
<text x="112.6" y="763.19" font-size="3.3" text-anchor="end" fill="#555" >0.5</text>
<text x="112.6" y="728.89" font-size="3.3" text-anchor="end" fill="#555" >1.0</text>
<text x="112.6" y="694.59" font-size="3.3" text-anchor="end" fill="#555" >1.5</text>
<text x="112.6" y="660.29" font-size="3.3" text-anchor="end" fill="#555" >2.0</text>
<text x="129.6" y="809" font-size="3.1" text-anchor="middle" fill="#555" >siCtrl</text>
<text x="155.1" y="809" font-size="3.1" text-anchor="middle" fill="#555" >siCtrl+TGF-β</text>
<text x="180.7" y="809" font-size="3.1" text-anchor="middle" fill="#555" >siABHD5+TGF-β</text>
<text x="155.1" y="813.2" font-size="3.7" text-anchor="middle" fill="#222" >Group</text>
<text transform="translate(106.15,722.05) rotate(-90)" font-size="3.9" text-anchor="middle" fill="#222">Expression</text>
<text x="114" y="637.8" font-size="4.5" text-anchor="start" fill="#111" >COL1</text>
<line x1="209.7" y1="780.5" x2="293" y2="780.5" stroke="#f1f1f1" stroke-width="0.5" />
<line x1="209.7" y1="745.9" x2="293" y2="745.9" stroke="#f1f1f1" stroke-width="0.5" />
<line x1="209.7" y1="711.3" x2="293" y2="711.3" stroke="#f1f1f1" stroke-width="0.5" />
<line x1="209.7" y1="676.7" x2="293" y2="676.7" stroke="#f1f1f1" stroke-width="0.5" />
<line x1="209.7" y1="642.1" x2="293" y2="642.1" stroke="#f1f1f1" stroke-width="0.5" />
<line x1="209.7" y1="797.8" x2="293" y2="797.8" stroke="#e8e8e8" stroke-width="0.6" />
<line x1="209.7" y1="763.2" x2="293" y2="763.2" stroke="#e8e8e8" stroke-width="0.6" />
<line x1="209.7" y1="728.6" x2="293" y2="728.6" stroke="#e8e8e8" stroke-width="0.6" />
<line x1="209.7" y1="694" x2="293" y2="694" stroke="#e8e8e8" stroke-width="0.6" />
<line x1="209.7" y1="659.4" x2="293" y2="659.4" stroke="#e8e8e8" stroke-width="0.6" />
<line x1="225.5" y1="639.7" x2="225.5" y2="804" stroke="#e8e8e8" stroke-width="0.6" />
<line x1="251.3" y1="639.7" x2="251.3" y2="804" stroke="#e8e8e8" stroke-width="0.6" />
<line x1="277.3" y1="639.7" x2="277.3" y2="804" stroke="#e8e8e8" stroke-width="0.6" />
<rect x="214.3" y="728.6" width="22.4" height="69.2" fill="#f99a93" />
<rect x="240.1" y="691.23" width="22.4" height="106.57" fill="#4dd2d6" />
<rect x="266.1" y="671.16" width="22.4" height="126.64" fill="#a3c64c" />
<line x1="214.3" y1="797.8" x2="236.7" y2="797.8" stroke="rgba(0,0,0,0.03)" stroke-width="0.7" />
<line x1="240.1" y1="797.8" x2="262.5" y2="797.8" stroke="rgba(0,0,0,0.03)" stroke-width="0.7" />
<line x1="266.1" y1="797.8" x2="288.5" y2="797.8" stroke="rgba(0,0,0,0.03)" stroke-width="0.7" />
<line x1="214.3" y1="763.2" x2="236.7" y2="763.2" stroke="rgba(0,0,0,0.03)" stroke-width="0.7" />
<line x1="240.1" y1="763.2" x2="262.5" y2="763.2" stroke="rgba(0,0,0,0.03)" stroke-width="0.7" />
<line x1="266.1" y1="763.2" x2="288.5" y2="763.2" stroke="rgba(0,0,0,0.03)" stroke-width="0.7" />
<line x1="240.1" y1="728.6" x2="262.5" y2="728.6" stroke="rgba(0,0,0,0.03)" stroke-width="0.7" />
<line x1="266.1" y1="728.6" x2="288.5" y2="728.6" stroke="rgba(0,0,0,0.03)" stroke-width="0.7" />
<line x1="240.1" y1="694" x2="262.5" y2="694" stroke="rgba(0,0,0,0.03)" stroke-width="0.7" />
<line x1="266.1" y1="694" x2="288.5" y2="694" stroke="rgba(0,0,0,0.03)" stroke-width="0.7" />
<line x1="225.5" y1="728.6" x2="225.5" y2="797.8" stroke="rgba(0,0,0,0.05)" stroke-width="0.6" />
<line x1="251.3" y1="691.23" x2="251.3" y2="797.8" stroke="rgba(0,0,0,0.05)" stroke-width="0.6" />
<line x1="277.3" y1="671.16" x2="277.3" y2="797.8" stroke="rgba(0,0,0,0.05)" stroke-width="0.6" />
<line x1="225.5" y1="728.25" x2="225.5" y2="728.95" stroke="#222" stroke-width="0.65" />
<line x1="222.1" y1="728.25" x2="228.9" y2="728.25" stroke="#222" stroke-width="0.65" />
<line x1="222.1" y1="728.95" x2="228.9" y2="728.95" stroke="#222" stroke-width="0.65" />
<line x1="251.3" y1="688.12" x2="251.3" y2="694.35" stroke="#222" stroke-width="0.65" />
<line x1="247.9" y1="688.12" x2="254.7" y2="688.12" stroke="#222" stroke-width="0.65" />
<line x1="247.9" y1="694.35" x2="254.7" y2="694.35" stroke="#222" stroke-width="0.65" />
<line x1="277.3" y1="668.12" x2="277.3" y2="674.21" stroke="#222" stroke-width="0.65" />
<line x1="273.9" y1="668.12" x2="280.7" y2="668.12" stroke="#222" stroke-width="0.65" />
<line x1="273.9" y1="674.21" x2="280.7" y2="674.21" stroke="#222" stroke-width="0.65" />
<path d="M225.5,664V662.6H251.3V664" fill="none" stroke="#555" stroke-width="0.5"/>
<text x="238.4" y="661.38" font-size="4.7" text-anchor="middle" fill="#222" font-weight="bold">**</text>
<path d="M225.5,656.7V655.3H277.3V656.7" fill="none" stroke="#555" stroke-width="0.5"/>
<text x="251.4" y="653.38" font-size="4.7" text-anchor="middle" fill="#222" font-weight="bold">**</text>
<path d="M251.3,648.7V647.3H277.3V648.7" fill="none" stroke="#555" stroke-width="0.5"/>
<text x="264.3" y="645.68" font-size="4.7" text-anchor="middle" fill="#222" font-weight="bold">**</text>
<text x="208.3" y="798.99" font-size="3.3" text-anchor="end" fill="#555" >0.0</text>
<text x="208.3" y="764.39" font-size="3.3" text-anchor="end" fill="#555" >0.5</text>
<text x="208.3" y="729.79" font-size="3.3" text-anchor="end" fill="#555" >1.0</text>
<text x="208.3" y="695.19" font-size="3.3" text-anchor="end" fill="#555" >1.5</text>
<text x="208.3" y="660.59" font-size="3.3" text-anchor="end" fill="#555" >2.0</text>
<text x="225.5" y="809" font-size="3.1" text-anchor="middle" fill="#555" >siCtrl</text>
<text x="251.3" y="809" font-size="3.1" text-anchor="middle" fill="#555" >siCtrl+TGF-β</text>
<text x="277.3" y="809" font-size="3.1" text-anchor="middle" fill="#555" >siABHD5+TGF-β</text>
<text x="251.3" y="813.2" font-size="3.7" text-anchor="middle" fill="#222" >Group</text>
<text transform="translate(202.15,722.05) rotate(-90)" font-size="3.9" text-anchor="middle" fill="#222">Expression</text>
<text x="209.7" y="637.8" font-size="4.5" text-anchor="start" fill="#111" >COL3</text>
<line x1="306.9" y1="775.15" x2="389" y2="775.15" stroke="#f1f1f1" stroke-width="0.5" />
<line x1="306.9" y1="733.25" x2="389" y2="733.25" stroke="#f1f1f1" stroke-width="0.5" />
<line x1="306.9" y1="691.35" x2="389" y2="691.35" stroke="#f1f1f1" stroke-width="0.5" />
<line x1="306.9" y1="649.45" x2="389" y2="649.45" stroke="#f1f1f1" stroke-width="0.5" />
<line x1="306.9" y1="796.1" x2="389" y2="796.1" stroke="#e8e8e8" stroke-width="0.6" />
<line x1="306.9" y1="754.2" x2="389" y2="754.2" stroke="#e8e8e8" stroke-width="0.6" />
<line x1="306.9" y1="712.3" x2="389" y2="712.3" stroke="#e8e8e8" stroke-width="0.6" />
<line x1="306.9" y1="670.4" x2="389" y2="670.4" stroke="#e8e8e8" stroke-width="0.6" />
<line x1="321.8" y1="639.7" x2="321.8" y2="804" stroke="#e8e8e8" stroke-width="0.6" />
<line x1="347.8" y1="639.7" x2="347.8" y2="804" stroke="#e8e8e8" stroke-width="0.6" />
<line x1="373.3" y1="639.7" x2="373.3" y2="804" stroke="#e8e8e8" stroke-width="0.6" />
<rect x="310.6" y="708.95" width="22.4" height="87.15" fill="#f99a93" />
<rect x="336.6" y="679.2" width="22.4" height="116.9" fill="#4dd2d6" />
<rect x="362.1" y="662.86" width="22.4" height="133.24" fill="#a3c64c" />
<line x1="310.6" y1="796.1" x2="333" y2="796.1" stroke="rgba(0,0,0,0.03)" stroke-width="0.7" />
<line x1="336.6" y1="796.1" x2="359" y2="796.1" stroke="rgba(0,0,0,0.03)" stroke-width="0.7" />
<line x1="362.1" y1="796.1" x2="384.5" y2="796.1" stroke="rgba(0,0,0,0.03)" stroke-width="0.7" />
<line x1="310.6" y1="754.2" x2="333" y2="754.2" stroke="rgba(0,0,0,0.03)" stroke-width="0.7" />
<line x1="336.6" y1="754.2" x2="359" y2="754.2" stroke="rgba(0,0,0,0.03)" stroke-width="0.7" />
<line x1="362.1" y1="754.2" x2="384.5" y2="754.2" stroke="rgba(0,0,0,0.03)" stroke-width="0.7" />
<line x1="310.6" y1="712.3" x2="333" y2="712.3" stroke="rgba(0,0,0,0.03)" stroke-width="0.7" />
<line x1="336.6" y1="712.3" x2="359" y2="712.3" stroke="rgba(0,0,0,0.03)" stroke-width="0.7" />
<line x1="362.1" y1="712.3" x2="384.5" y2="712.3" stroke="rgba(0,0,0,0.03)" stroke-width="0.7" />
<line x1="362.1" y1="670.4" x2="384.5" y2="670.4" stroke="rgba(0,0,0,0.03)" stroke-width="0.7" />
<line x1="321.8" y1="708.95" x2="321.8" y2="796.1" stroke="rgba(0,0,0,0.05)" stroke-width="0.6" />
<line x1="347.8" y1="679.2" x2="347.8" y2="796.1" stroke="rgba(0,0,0,0.05)" stroke-width="0.6" />
<line x1="373.3" y1="662.86" x2="373.3" y2="796.1" stroke="rgba(0,0,0,0.05)" stroke-width="0.6" />
<line x1="321.8" y1="707.36" x2="321.8" y2="710.54" stroke="#222" stroke-width="0.65" />
<line x1="318.4" y1="707.36" x2="325.2" y2="707.36" stroke="#222" stroke-width="0.65" />
<line x1="318.4" y1="710.54" x2="325.2" y2="710.54" stroke="#222" stroke-width="0.65" />
<line x1="347.8" y1="677.77" x2="347.8" y2="680.62" stroke="#222" stroke-width="0.65" />
<line x1="344.4" y1="677.77" x2="351.2" y2="677.77" stroke="#222" stroke-width="0.65" />
<line x1="344.4" y1="680.62" x2="351.2" y2="680.62" stroke="#222" stroke-width="0.65" />
<line x1="373.3" y1="662.44" x2="373.3" y2="663.28" stroke="#222" stroke-width="0.65" />
<line x1="369.9" y1="662.44" x2="376.7" y2="662.44" stroke="#222" stroke-width="0.65" />
<line x1="369.9" y1="663.28" x2="376.7" y2="663.28" stroke="#222" stroke-width="0.65" />
<path d="M321.8,660.8V659.4H347.8V660.8" fill="none" stroke="#555" stroke-width="0.5"/>
<text x="334.8" y="657.68" font-size="4.7" text-anchor="middle" fill="#222" font-weight="bold">***</text>
<path d="M321.8,655V653.6H373.3V655" fill="none" stroke="#555" stroke-width="0.5"/>
<text x="347.55" y="651.88" font-size="4.7" text-anchor="middle" fill="#222" font-weight="bold">***</text>
<path d="M347.8,648.7V647.3H373.3V648.7" fill="none" stroke="#555" stroke-width="0.5"/>
<text x="360.55" y="645.68" font-size="4.7" text-anchor="middle" fill="#222" font-weight="bold">**</text>
<text x="305.5" y="797.29" font-size="3.3" text-anchor="end" fill="#555" >0.0</text>
<text x="305.5" y="755.39" font-size="3.3" text-anchor="end" fill="#555" >0.5</text>
<text x="305.5" y="713.49" font-size="3.3" text-anchor="end" fill="#555" >1.0</text>
<text x="305.5" y="671.59" font-size="3.3" text-anchor="end" fill="#555" >1.5</text>
<text x="321.8" y="809" font-size="3.1" text-anchor="middle" fill="#555" >siCtrl</text>
<text x="347.8" y="809" font-size="3.1" text-anchor="middle" fill="#555" >siCtrl+TGF-β</text>
<text x="373.3" y="809" font-size="3.1" text-anchor="middle" fill="#555" >siABHD5+TGF-β</text>
<text x="347.8" y="813.2" font-size="3.7" text-anchor="middle" fill="#222" >Group</text>
<text transform="translate(298.65,722.05) rotate(-90)" font-size="3.9" text-anchor="middle" fill="#222">Expression</text>
<text x="306.9" y="637.8" font-size="4.5" text-anchor="start" fill="#111" >a_SMA</text>
<text x="393.8" y="544.4" font-size="16" text-anchor="start" fill="#000" >F</text>
<text x="450.5" y="553.4" font-size="9.8" text-anchor="middle" fill="#000" >siCtrl</text>
<text x="525.2" y="553.4" font-size="9.8" text-anchor="middle" fill="#000" >siCtrl+TGF-β</text>
<text x="598.7" y="553.4" font-size="9.8" text-anchor="middle" fill="#000" >siABHD5+TGF-β</text>
<line x1="416.9" y1="557.6" x2="483.7" y2="557.6" stroke="#4a4a4a" stroke-width="1.2" />
<line x1="491.2" y1="557.8" x2="557.6" y2="557.8" stroke="#4a4a4a" stroke-width="1.2" />
<line x1="565.1" y1="558.2" x2="631.8" y2="558.2" stroke="#4a4a4a" stroke-width="1.2" />
<rect x="401.5" y="567.6" width="245.9" height="30.6" fill="#fafafa" />
<rect x="401.5" y="603.2" width="245.9" height="33.1" fill="#fafafa" />
<rect x="401.5" y="644.2" width="245.9" height="33.6" fill="#fafafa" />
<rect x="401.5" y="685.4" width="245.9" height="32.4" fill="#f1f1f1" />
<rect x="401.5" y="725.5" width="245.9" height="33.2" fill="#fafafa" />
<rect x="413.7" y="579.2" width="21" height="3" rx="1.2" fill="#3a3a3a" fill-opacity="0.95" filter="url(#bl1)"/>
<rect x="439.8" y="578.8" width="19.9" height="3" rx="1.2" fill="#3a3a3a" fill-opacity="0.95" filter="url(#bl1)"/>
<rect x="464.8" y="578.6" width="21" height="3" rx="1.2" fill="#3a3a3a" fill-opacity="0.95" filter="url(#bl1)"/>
<rect x="491.2" y="578.3" width="20.1" height="3" rx="1.2" fill="#3a3a3a" fill-opacity="0.95" filter="url(#bl1)"/>
<rect x="516.8" y="578.1" width="19.5" height="3" rx="1.2" fill="#3a3a3a" fill-opacity="0.95" filter="url(#bl1)"/>
<rect x="542.8" y="577.7" width="19.3" height="3" rx="1.2" fill="#3a3a3a" fill-opacity="0.95" filter="url(#bl1)"/>
<rect x="568.4" y="577.7" width="18.4" height="2.4" rx="1.2" fill="#555" fill-opacity="0.85" filter="url(#bl1)"/>
<rect x="594" y="577.1" width="18.6" height="2.4" rx="1.2" fill="#555" fill-opacity="0.85" filter="url(#bl1)"/>
<rect x="619.6" y="576.7" width="19.6" height="2.4" rx="1.2" fill="#555" fill-opacity="0.85" filter="url(#bl1)"/>
<rect x="408.2" y="617.9" width="18.4" height="4" rx="1.2" fill="#999" fill-opacity="0.225" filter="url(#bl3)"/>
<rect x="408.2" y="620.9" width="17.9" height="3" rx="1.2" fill="#333" fill-opacity="0.9" filter="url(#bl1)"/>
<rect x="434.3" y="618" width="18.2" height="4" rx="1.2" fill="#999" fill-opacity="0.1875" filter="url(#bl3)"/>
<rect x="434.3" y="621.1" width="17.7" height="2.8" rx="1.2" fill="#444" fill-opacity="0.75" filter="url(#bl1)"/>
<rect x="460.2" y="618.1" width="18.4" height="4" rx="1.2" fill="#999" fill-opacity="0.15" filter="url(#bl3)"/>
<rect x="460.2" y="621.3" width="17.9" height="2.6" rx="1.2" fill="#555" fill-opacity="0.6" filter="url(#bl1)"/>
<rect x="485.8" y="617.1" width="19.6" height="4" rx="1.2" fill="#999" fill-opacity="0.225" filter="url(#bl3)"/>
<rect x="485.8" y="620" width="19.1" height="3.2" rx="1.2" fill="#2a2a2a" fill-opacity="0.9" filter="url(#bl1)"/>
<rect x="512.2" y="616.5" width="19.3" height="4" rx="1.2" fill="#999" fill-opacity="0.2125" filter="url(#bl3)"/>
<rect x="512.2" y="619.5" width="18.8" height="3" rx="1.2" fill="#333" fill-opacity="0.85" filter="url(#bl1)"/>
<rect x="538.4" y="616.1" width="19.1" height="4" rx="1.2" fill="#999" fill-opacity="0.2125" filter="url(#bl3)"/>
<rect x="538.4" y="619.1" width="18.6" height="3" rx="1.2" fill="#333" fill-opacity="0.85" filter="url(#bl1)"/>
<rect x="564.6" y="614.2" width="19.1" height="4" rx="1.2" fill="#999" fill-opacity="0.23" filter="url(#bl3)"/>
<rect x="564.6" y="617.05" width="18.6" height="3.3" rx="1.2" fill="#1c1c1c" fill-opacity="0.92" filter="url(#bl1)"/>
<rect x="590.8" y="612.3" width="18.9" height="4" rx="1.2" fill="#999" fill-opacity="0.23" filter="url(#bl3)"/>
<rect x="590.8" y="615.15" width="18.4" height="3.3" rx="1.2" fill="#1c1c1c" fill-opacity="0.92" filter="url(#bl1)"/>
<rect x="616.4" y="611.7" width="19.9" height="4" rx="1.2" fill="#999" fill-opacity="0.2375" filter="url(#bl3)"/>
<rect x="616.4" y="614.45" width="19.4" height="3.5" rx="1.2" fill="#141414" fill-opacity="0.95" filter="url(#bl1)"/>
<rect x="406.4" y="670.3" width="18.2" height="5" rx="1.2" fill="#bbb" fill-opacity="0.12" filter="url(#bl3)"/>
<rect x="406.4" y="662.5" width="18.2" height="3.6" rx="1.2" fill="#888" fill-opacity="0.5" filter="url(#bl1)"/>
<rect x="432.8" y="669.4" width="18.3" height="5" rx="1.2" fill="#bbb" fill-opacity="0.12" filter="url(#bl3)"/>
<rect x="432.8" y="661.7" width="18.3" height="3.4" rx="1.2" fill="#999" fill-opacity="0.42" filter="url(#bl1)"/>
<rect x="460.2" y="669.2" width="17.4" height="5" rx="1.2" fill="#bbb" fill-opacity="0.12" filter="url(#bl3)"/>
<rect x="460.2" y="661.5" width="17.4" height="3.4" rx="1.2" fill="#aaa" fill-opacity="0.35" filter="url(#bl1)"/>
<rect x="485.8" y="668.3" width="20" height="5" rx="1.2" fill="#bbb" fill-opacity="0.12" filter="url(#bl3)"/>
<rect x="485.8" y="660.6" width="20" height="3.4" rx="1.2" fill="#444" fill-opacity="0.8" filter="url(#bl1)"/>
<rect x="512.2" y="667.2" width="20.1" height="5" rx="1.2" fill="#bbb" fill-opacity="0.12" filter="url(#bl3)"/>
<rect x="512.2" y="659.6" width="20.1" height="3.2" rx="1.2" fill="#555" fill-opacity="0.75" filter="url(#bl1)"/>
<rect x="540.5" y="666" width="18.4" height="5" rx="1.2" fill="#bbb" fill-opacity="0.12" filter="url(#bl3)"/>
<rect x="540.5" y="658.4" width="18.4" height="3.2" rx="1.2" fill="#666" fill-opacity="0.7" filter="url(#bl1)"/>
<rect x="566.5" y="665" width="20.9" height="5" rx="1.2" fill="#bbb" fill-opacity="0.12" filter="url(#bl3)"/>
<rect x="566.5" y="657.1" width="20.9" height="3.8" rx="1.2" fill="#151515" fill-opacity="0.95" filter="url(#bl1)"/>
<rect x="594" y="663.7" width="19.4" height="5" rx="1.2" fill="#bbb" fill-opacity="0.12" filter="url(#bl3)"/>
<rect x="594" y="655.7" width="19.4" height="4" rx="1.2" fill="#0a0a0a" fill-opacity="1.0" filter="url(#bl1)"/>
<rect x="620.2" y="662.7" width="20.3" height="5" rx="1.2" fill="#bbb" fill-opacity="0.12" filter="url(#bl3)"/>
<rect x="620.2" y="654.75" width="20.3" height="3.9" rx="1.2" fill="#0a0a0a" fill-opacity="1.0" filter="url(#bl1)"/>
<rect x="404.6" y="692" width="20" height="19" rx="1.5" fill="#5a5a5a" fill-opacity="0.16" filter="url(#bl2)"/>
<rect x="405.1" y="705.65" width="19" height="4.5" rx="1" fill="#222" fill-opacity="0.32000000000000006" filter="url(#bl2)"/>
<rect x="405.1" y="695.7" width="19" height="2.6" rx="1" fill="#333" fill-opacity="0.1" filter="url(#bl2)"/>
<rect x="432.8" y="692" width="18.3" height="19" rx="1.5" fill="#5a5a5a" fill-opacity="0.18" filter="url(#bl2)"/>
<rect x="433.3" y="703.75" width="17.3" height="4.5" rx="1" fill="#222" fill-opacity="0.32000000000000006" filter="url(#bl2)"/>
<rect x="433.3" y="695.7" width="17.3" height="2.6" rx="1" fill="#333" fill-opacity="0.12" filter="url(#bl2)"/>
<rect x="459.3" y="692" width="18.3" height="19" rx="1.5" fill="#5a5a5a" fill-opacity="0.16" filter="url(#bl2)"/>
<rect x="459.8" y="703.25" width="17.3" height="4.5" rx="1" fill="#222" fill-opacity="0.288" filter="url(#bl2)"/>
<rect x="459.8" y="695.7" width="17.3" height="2.6" rx="1" fill="#333" fill-opacity="0.1" filter="url(#bl2)"/>
<rect x="485.5" y="692" width="20.2" height="19" rx="1.5" fill="#5a5a5a" fill-opacity="0.7" filter="url(#bl2)"/>
<rect x="486" y="701.75" width="19.2" height="4.5" rx="1" fill="#222" fill-opacity="0.6000000000000001" filter="url(#bl2)"/>
<rect x="486" y="692.2" width="19.2" height="2.6" rx="1" fill="#333" fill-opacity="0.5" filter="url(#bl2)"/>
<rect x="486" y="707.9" width="19.2" height="2.2" rx="1" fill="#333" fill-opacity="0.35" filter="url(#bl2)"/>
<rect x="512.7" y="692" width="19.9" height="19" rx="1.5" fill="#5a5a5a" fill-opacity="0.66" filter="url(#bl2)"/>
<rect x="513.2" y="699.95" width="18.9" height="4.5" rx="1" fill="#222" fill-opacity="0.6000000000000001" filter="url(#bl2)"/>
<rect x="513.2" y="692.2" width="18.9" height="2.6" rx="1" fill="#333" fill-opacity="0.48" filter="url(#bl2)"/>
<rect x="513.2" y="706.1" width="18.9" height="2.2" rx="1" fill="#333" fill-opacity="0.33599999999999997" filter="url(#bl2)"/>
<rect x="539.8" y="692" width="20.1" height="19" rx="1.5" fill="#5a5a5a" fill-opacity="0.58" filter="url(#bl2)"/>
<rect x="540.3" y="698.75" width="19.1" height="4.5" rx="1" fill="#222" fill-opacity="0.496" filter="url(#bl2)"/>
<rect x="540.3" y="692.2" width="19.1" height="2.6" rx="1" fill="#333" fill-opacity="0.4" filter="url(#bl2)"/>
<rect x="540.3" y="704.9" width="19.1" height="2.2" rx="1" fill="#333" fill-opacity="0.27999999999999997" filter="url(#bl2)"/>
<rect x="566.5" y="692" width="20.9" height="19" rx="1.5" fill="#5a5a5a" fill-opacity="0.72" filter="url(#bl2)"/>
<rect x="567" y="698.15" width="19.9" height="4.5" rx="1" fill="#222" fill-opacity="0.656" filter="url(#bl2)"/>
<rect x="567" y="692.2" width="19.9" height="2.6" rx="1" fill="#333" fill-opacity="0.55" filter="url(#bl2)"/>
<rect x="567" y="704.3" width="19.9" height="2.2" rx="1" fill="#333" fill-opacity="0.385" filter="url(#bl2)"/>
<rect x="594" y="692" width="20" height="19" rx="1.5" fill="#5a5a5a" fill-opacity="0.78" filter="url(#bl2)"/>
<rect x="594.5" y="696.75" width="19" height="4.5" rx="1" fill="#222" fill-opacity="0.7200000000000001" filter="url(#bl2)"/>
<rect x="594.5" y="692.2" width="19" height="2.6" rx="1" fill="#333" fill-opacity="0.55" filter="url(#bl2)"/>
<rect x="594.5" y="702.9" width="19" height="2.2" rx="1" fill="#333" fill-opacity="0.385" filter="url(#bl2)"/>
<rect x="620.6" y="692" width="20.9" height="19" rx="1.5" fill="#5a5a5a" fill-opacity="0.52" filter="url(#bl2)"/>
<rect x="621.1" y="695.75" width="19.9" height="4.5" rx="1" fill="#222" fill-opacity="0.496" filter="url(#bl2)"/>
<rect x="621.1" y="692.2" width="19.9" height="2.6" rx="1" fill="#333" fill-opacity="0.4" filter="url(#bl2)"/>
<rect x="621.1" y="701.9" width="19.9" height="2.2" rx="1" fill="#333" fill-opacity="0.27999999999999997" filter="url(#bl2)"/>
<rect x="413.1" y="738.8" width="21.6" height="5" rx="1.2" fill="#aaa" fill-opacity="0.18" filter="url(#bl3)"/>
<rect x="413.1" y="743.7" width="21.6" height="5.2" rx="1.2" fill="#050505" fill-opacity="1.0" filter="url(#bl1)"/>
<rect x="441" y="739.8" width="19.2" height="5" rx="1.2" fill="#aaa" fill-opacity="0.18" filter="url(#bl3)"/>
<rect x="441" y="744.9" width="19.2" height="4.8" rx="1.2" fill="#050505" fill-opacity="1.0" filter="url(#bl1)"/>
<rect x="465.7" y="738.5" width="20.1" height="5" rx="1.2" fill="#aaa" fill-opacity="0.18" filter="url(#bl3)"/>
<rect x="465.7" y="744" width="20.1" height="4" rx="1.2" fill="#050505" fill-opacity="1.0" filter="url(#bl1)"/>
<rect x="490.3" y="736.4" width="21" height="5" rx="1.2" fill="#aaa" fill-opacity="0.18" filter="url(#bl3)"/>
<rect x="490.3" y="741.9" width="21" height="4" rx="1.2" fill="#050505" fill-opacity="1.0" filter="url(#bl1)"/>
<rect x="516.8" y="735.2" width="20.5" height="5" rx="1.2" fill="#aaa" fill-opacity="0.18" filter="url(#bl3)"/>
<rect x="516.8" y="740.8" width="20.5" height="3.8" rx="1.2" fill="#050505" fill-opacity="1.0" filter="url(#bl1)"/>
<rect x="541.7" y="733.9" width="21.7" height="5" rx="1.2" fill="#aaa" fill-opacity="0.18" filter="url(#bl3)"/>
<rect x="541.7" y="739.4" width="21.7" height="4" rx="1.2" fill="#050505" fill-opacity="1.0" filter="url(#bl1)"/>
<rect x="564.6" y="731.3" width="21.6" height="5" rx="1.2" fill="#aaa" fill-opacity="0.18" filter="url(#bl3)"/>
<rect x="564.6" y="736.7" width="21.6" height="4.2" rx="1.2" fill="#050505" fill-opacity="1.0" filter="url(#bl1)"/>
<rect x="592.3" y="729.6" width="19.2" height="5" rx="1.2" fill="#aaa" fill-opacity="0.18" filter="url(#bl3)"/>
<rect x="592.3" y="735.3" width="19.2" height="3.6" rx="1.2" fill="#050505" fill-opacity="1.0" filter="url(#bl1)"/>
<rect x="616.3" y="728.6" width="20.5" height="5" rx="1.2" fill="#aaa" fill-opacity="0.18" filter="url(#bl3)"/>
<rect x="616.3" y="734.3" width="20.5" height="3.6" rx="1.2" fill="#050505" fill-opacity="1.0" filter="url(#bl1)"/>
<rect x="401.5" y="567.6" width="245.9" height="30.6" fill="none" stroke="#111" stroke-width="1.3"/>
<text x="651" y="584" font-size="10.0" text-anchor="start" fill="#111" >ABHD5</text>
<rect x="401.5" y="603.2" width="245.9" height="33.1" fill="none" stroke="#111" stroke-width="1.3"/>
<text x="651" y="624.15" font-size="10.0" text-anchor="start" fill="#111" >COL-1</text>
<rect x="401.5" y="644.2" width="245.9" height="33.6" fill="none" stroke="#111" stroke-width="1.3"/>
<text x="651" y="664.6" font-size="10.0" text-anchor="start" fill="#111" >COL-3</text>
<rect x="401.5" y="685.4" width="245.9" height="32.4" fill="none" stroke="#111" stroke-width="1.3"/>
<text x="651" y="705.2" font-size="10.0" text-anchor="start" fill="#111" >α-SMA</text>
<rect x="401.5" y="725.5" width="245.9" height="33.2" fill="none" stroke="#111" stroke-width="1.3"/>
<text x="651" y="745.7" font-size="10.0" text-anchor="start" fill="#111" >GAPDH</text>
</svg></body></html>
